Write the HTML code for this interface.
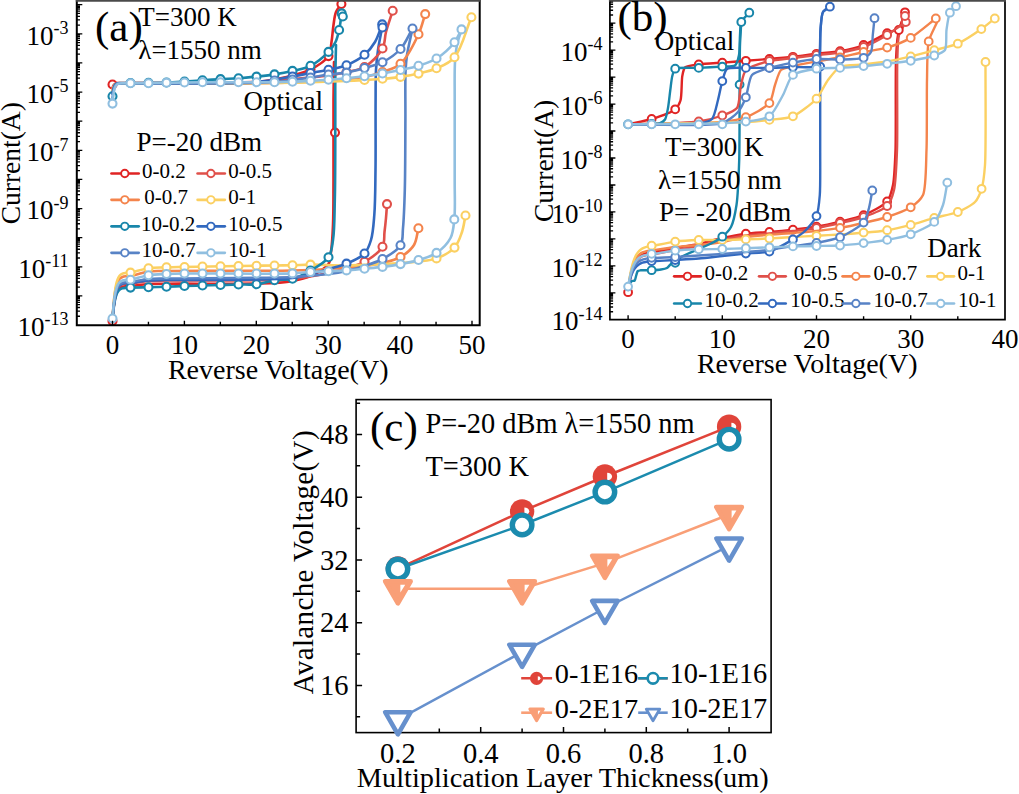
<!DOCTYPE html>
<html><head><meta charset="utf-8"><style>
html,body{margin:0;padding:0;background:#fff;}
svg{display:block;}
text{font-family:"Liberation Serif", serif;fill:#000;}
</style></head><body>
<svg width="1019" height="794" viewBox="0 0 1019 794">
<rect width="1019" height="794" fill="#fff"/>
<g>
<path d="M112.50,320.00 C112.60,318.76 112.69,317.58 112.80,316.29 C112.92,314.91 113.05,313.43 113.20,311.97 C113.35,310.48 113.52,308.93 113.70,307.43 C113.88,305.95 114.08,304.45 114.30,303.01 C114.51,301.64 114.72,300.34 115.00,299.00 C115.29,297.62 115.58,296.19 116.00,294.85 C116.42,293.52 116.87,292.10 117.50,290.97 C118.06,289.95 118.67,289.01 119.50,288.30 C120.34,287.59 121.43,287.08 122.50,286.73 C123.59,286.37 124.76,286.31 126.00,286.19 C127.40,286.05 128.50,286.15 130.50,286.00 C134.50,285.69 142.49,284.38 148.50,284.00 C154.49,283.62 157.98,283.80 166.50,283.70 C187.37,283.46 253.65,284.22 274.50,283.00 C283.04,282.50 286.55,282.15 292.50,281.00 C298.55,279.83 304.70,278.65 310.50,276.00 C316.74,273.14 325.29,268.75 328.50,264.00 C330.92,260.42 330.32,256.83 331.00,252.00 C332.01,244.83 332.57,235.15 333.00,225.00 C333.56,211.91 333.40,197.14 333.50,180.00 C333.63,157.14 333.36,121.76 333.50,100.00 C333.60,85.00 333.83,74.67 334.00,62.00" fill="none" stroke="#e02424" stroke-width="2.6" stroke-linejoin="round" stroke-linecap="round"/>
<circle cx="112.50" cy="321.00" r="4.0" fill="#fff" stroke="#e02424" stroke-width="2.1"/>
<circle cx="335.00" cy="132.60" r="4.0" fill="#fff" stroke="#e02424" stroke-width="2.1"/>
<path d="M112.50,320.00 C112.60,318.67 112.69,317.40 112.80,316.02 C112.92,314.54 113.05,312.95 113.20,311.38 C113.35,309.78 113.52,308.12 113.70,306.51 C113.88,304.91 114.08,303.31 114.30,301.77 C114.51,300.29 114.72,298.90 115.00,297.45 C115.29,295.98 115.58,294.45 116.00,293.00 C116.41,291.57 116.87,290.06 117.50,288.83 C118.06,287.75 118.66,286.73 119.50,285.97 C120.33,285.22 121.43,284.66 122.50,284.28 C123.59,283.90 124.76,283.83 126.00,283.70 C127.40,283.56 128.51,283.68 130.50,283.50 C134.51,283.13 142.49,281.50 148.50,281.00 C154.49,280.50 157.79,280.67 166.50,280.50 C189.54,280.04 263.31,281.59 292.50,279.00 C308.21,277.61 318.61,275.19 328.50,273.00 C335.58,271.43 340.53,269.86 346.50,268.00 C352.53,266.13 358.78,265.03 364.50,261.80 C370.85,258.21 379.38,252.36 382.50,246.70 C384.98,242.20 383.91,236.84 384.50,232.00 C385.07,227.28 385.58,222.66 386.00,218.00 C386.42,213.36 386.67,208.73 387.00,204.10" fill="none" stroke="#e0504a" stroke-width="2.6" stroke-linejoin="round" stroke-linecap="round"/>
<circle cx="364.50" cy="261.80" r="4.0" fill="#fff" stroke="#e0504a" stroke-width="2.1"/>
<circle cx="382.50" cy="246.70" r="4.0" fill="#fff" stroke="#e0504a" stroke-width="2.1"/>
<circle cx="387.00" cy="204.10" r="4.0" fill="#fff" stroke="#e0504a" stroke-width="2.1"/>
<path d="M112.50,320.00 C112.60,318.40 112.69,316.86 112.80,315.21 C112.92,313.41 113.05,311.50 113.20,309.61 C113.35,307.68 113.52,305.68 113.70,303.73 C113.88,301.81 114.08,299.88 114.30,298.02 C114.51,296.24 114.72,294.56 115.00,292.82 C115.29,291.04 115.58,289.20 116.00,287.45 C116.41,285.74 116.86,283.91 117.50,282.43 C118.06,281.14 118.64,279.91 119.50,278.98 C120.32,278.10 121.41,277.40 122.50,276.94 C123.58,276.49 124.75,276.40 126.00,276.24 C127.40,276.07 128.52,276.30 130.50,276.00 C134.52,275.39 142.45,272.33 148.50,271.50 C154.46,270.68 157.79,271.14 166.50,271.00 C189.54,270.63 263.24,271.17 292.50,270.50 C308.14,270.14 316.51,269.75 328.50,269.00 C340.51,268.25 354.58,267.24 364.50,266.00 C371.55,265.12 376.56,264.48 382.50,263.00 C388.56,261.49 395.20,260.06 400.50,257.00 C405.67,254.01 411.02,249.86 414.00,245.00 C416.92,240.25 416.93,233.87 418.40,228.30" fill="none" stroke="#f4844c" stroke-width="2.6" stroke-linejoin="round" stroke-linecap="round"/>
<circle cx="400.50" cy="257.00" r="4.0" fill="#fff" stroke="#f4844c" stroke-width="2.1"/>
<circle cx="418.40" cy="228.30" r="4.0" fill="#fff" stroke="#f4844c" stroke-width="2.1"/>
<path d="M112.50,321.00 C112.60,319.24 112.69,317.55 112.80,315.73 C112.92,313.75 113.05,311.65 113.20,309.58 C113.35,307.45 113.52,305.25 113.70,303.11 C113.88,301.00 114.08,298.86 114.30,296.82 C114.51,294.87 114.72,293.02 115.00,291.10 C115.29,289.15 115.58,287.12 116.00,285.20 C116.41,283.31 116.86,281.31 117.50,279.67 C118.06,278.26 118.62,276.90 119.50,275.88 C120.32,274.92 121.40,274.14 122.50,273.63 C123.57,273.14 124.75,273.04 126.00,272.87 C127.40,272.68 128.52,272.90 130.50,272.60 C134.52,271.99 142.46,269.08 148.50,268.20 C154.46,267.33 157.98,267.58 166.50,267.30 C187.37,266.60 253.63,265.79 274.50,265.50 C283.02,265.38 286.50,265.45 292.50,265.30 C298.50,265.15 303.47,264.65 310.50,264.60 C320.44,264.53 334.50,265.60 346.50,265.50 C358.50,265.40 372.56,264.48 382.50,264.00 C389.53,263.66 394.50,263.42 400.50,263.00 C406.50,262.58 412.52,262.26 418.50,261.50 C424.52,260.73 430.69,260.56 436.50,258.40 C442.72,256.09 450.20,252.31 454.50,247.60 C458.40,243.32 460.16,237.39 462.00,232.00 C463.81,226.68 464.33,221.00 465.50,215.50" fill="none" stroke="#fbd062" stroke-width="2.6" stroke-linejoin="round" stroke-linecap="round"/>
<circle cx="130.50" cy="272.60" r="4.0" fill="#fff" stroke="#fbd062" stroke-width="2.1"/>
<circle cx="148.50" cy="268.20" r="4.0" fill="#fff" stroke="#fbd062" stroke-width="2.1"/>
<circle cx="166.50" cy="267.30" r="4.0" fill="#fff" stroke="#fbd062" stroke-width="2.1"/>
<circle cx="184.50" cy="267.00" r="4.0" fill="#fff" stroke="#fbd062" stroke-width="2.1"/>
<circle cx="202.50" cy="266.50" r="4.0" fill="#fff" stroke="#fbd062" stroke-width="2.1"/>
<circle cx="220.50" cy="266.20" r="4.0" fill="#fff" stroke="#fbd062" stroke-width="2.1"/>
<circle cx="238.50" cy="266.00" r="4.0" fill="#fff" stroke="#fbd062" stroke-width="2.1"/>
<circle cx="256.50" cy="265.80" r="4.0" fill="#fff" stroke="#fbd062" stroke-width="2.1"/>
<circle cx="274.50" cy="265.50" r="4.0" fill="#fff" stroke="#fbd062" stroke-width="2.1"/>
<circle cx="292.50" cy="265.30" r="4.0" fill="#fff" stroke="#fbd062" stroke-width="2.1"/>
<circle cx="310.50" cy="264.60" r="4.0" fill="#fff" stroke="#fbd062" stroke-width="2.1"/>
<circle cx="436.50" cy="258.40" r="4.0" fill="#fff" stroke="#fbd062" stroke-width="2.1"/>
<circle cx="454.50" cy="247.60" r="4.0" fill="#fff" stroke="#fbd062" stroke-width="2.1"/>
<circle cx="465.50" cy="215.50" r="4.0" fill="#fff" stroke="#fbd062" stroke-width="2.1"/>
<path d="M112.50,320.00 C112.60,318.82 112.69,317.69 112.80,316.47 C112.92,315.15 113.05,313.74 113.20,312.35 C113.35,310.93 113.52,309.45 113.70,308.02 C113.88,306.61 114.08,305.18 114.30,303.81 C114.51,302.51 114.72,301.27 115.00,299.99 C115.29,298.67 115.58,297.31 116.00,296.03 C116.42,294.76 116.87,293.41 117.50,292.34 C118.06,291.36 118.68,290.47 119.50,289.79 C120.34,289.11 121.43,288.63 122.50,288.29 C123.60,287.95 124.76,287.90 126.00,287.78 C127.40,287.65 128.50,287.66 130.50,287.60 C134.50,287.48 142.50,287.35 148.50,287.20 C154.50,287.05 160.50,286.90 166.50,286.70 C172.50,286.50 178.50,286.20 184.50,286.00 C190.50,285.80 196.50,285.67 202.50,285.50 C208.50,285.33 214.50,285.17 220.50,285.00 C226.50,284.83 232.50,284.62 238.50,284.50 C244.50,284.38 250.54,285.00 256.50,284.30 C262.54,283.59 268.47,281.12 274.50,280.20 C280.47,279.29 286.63,280.31 292.50,278.80 C298.64,277.21 304.67,274.03 310.50,270.60 C316.70,266.95 324.78,262.80 328.50,257.30 C331.82,252.38 331.94,247.03 333.00,240.00 C334.59,229.49 334.40,215.63 334.80,200.00 C335.37,177.91 335.23,142.09 335.30,120.00 C335.35,104.38 335.17,92.89 335.30,80.00 C335.42,67.94 335.77,56.67 336.00,45.00" fill="none" stroke="#1886aa" stroke-width="2.6" stroke-linejoin="round" stroke-linecap="round"/>
<circle cx="130.50" cy="287.60" r="4.0" fill="#fff" stroke="#1886aa" stroke-width="2.1"/>
<circle cx="148.50" cy="287.20" r="4.0" fill="#fff" stroke="#1886aa" stroke-width="2.1"/>
<circle cx="166.50" cy="286.70" r="4.0" fill="#fff" stroke="#1886aa" stroke-width="2.1"/>
<circle cx="184.50" cy="286.00" r="4.0" fill="#fff" stroke="#1886aa" stroke-width="2.1"/>
<circle cx="202.50" cy="285.50" r="4.0" fill="#fff" stroke="#1886aa" stroke-width="2.1"/>
<circle cx="220.50" cy="285.00" r="4.0" fill="#fff" stroke="#1886aa" stroke-width="2.1"/>
<circle cx="238.50" cy="284.50" r="4.0" fill="#fff" stroke="#1886aa" stroke-width="2.1"/>
<circle cx="256.50" cy="284.30" r="4.0" fill="#fff" stroke="#1886aa" stroke-width="2.1"/>
<circle cx="274.50" cy="280.20" r="4.0" fill="#fff" stroke="#1886aa" stroke-width="2.1"/>
<circle cx="292.50" cy="278.80" r="4.0" fill="#fff" stroke="#1886aa" stroke-width="2.1"/>
<circle cx="310.50" cy="270.60" r="4.0" fill="#fff" stroke="#1886aa" stroke-width="2.1"/>
<circle cx="328.50" cy="257.30" r="4.0" fill="#fff" stroke="#1886aa" stroke-width="2.1"/>
<path d="M112.50,320.00 C112.60,318.66 112.69,317.36 112.80,315.97 C112.92,314.46 113.05,312.85 113.20,311.27 C113.35,309.64 113.52,307.96 113.70,306.32 C113.88,304.71 114.08,303.08 114.30,301.52 C114.51,300.02 114.72,298.61 115.00,297.15 C115.29,295.65 115.58,294.10 116.00,292.63 C116.41,291.18 116.87,289.65 117.50,288.41 C118.06,287.31 118.66,286.28 119.50,285.51 C120.33,284.74 121.42,284.17 122.50,283.79 C123.59,283.40 124.76,283.34 126.00,283.21 C127.40,283.06 128.51,283.18 130.50,283.00 C134.51,282.63 142.49,281.00 148.50,280.50 C154.49,280.00 157.79,280.19 166.50,280.00 C189.54,279.50 269.53,280.71 292.50,278.00 C301.29,276.97 304.52,275.49 310.50,274.00 C316.52,272.50 322.51,270.73 328.50,269.00 C334.51,267.26 340.63,266.09 346.50,263.60 C352.65,260.99 360.37,257.90 364.50,253.50 C368.02,249.75 369.41,245.34 371.00,240.00 C373.07,233.08 373.54,224.57 374.30,215.00 C375.31,202.21 375.27,186.65 375.50,170.00 C375.79,149.24 375.46,118.46 375.60,100.00 C375.69,87.91 375.49,78.98 376.00,70.00 C376.42,62.65 377.03,56.88 378.00,50.00 C379.05,42.58 380.80,34.67 382.20,27.00" fill="none" stroke="#3269bf" stroke-width="2.6" stroke-linejoin="round" stroke-linecap="round"/>
<circle cx="346.50" cy="263.60" r="4.0" fill="#fff" stroke="#3269bf" stroke-width="2.1"/>
<circle cx="364.50" cy="253.50" r="4.0" fill="#fff" stroke="#3269bf" stroke-width="2.1"/>
<path d="M112.50,320.00 C112.60,318.62 112.69,317.29 112.80,315.86 C112.92,314.31 113.05,312.66 113.20,311.03 C113.35,309.36 113.52,307.63 113.70,305.95 C113.88,304.29 114.08,302.62 114.30,301.02 C114.51,299.48 114.72,298.03 115.00,296.53 C115.29,294.99 115.58,293.40 116.00,291.89 C116.41,290.41 116.87,288.83 117.50,287.55 C118.06,286.43 118.66,285.37 119.50,284.57 C120.33,283.79 121.42,283.21 122.50,282.81 C123.59,282.41 124.76,282.35 126.00,282.21 C127.40,282.06 128.51,282.21 130.50,282.00 C134.51,281.57 142.48,279.58 148.50,279.00 C154.48,278.42 157.79,278.67 166.50,278.50 C189.54,278.04 263.26,278.39 292.50,277.00 C308.16,276.26 318.58,275.24 328.50,274.00 C335.55,273.12 340.53,272.32 346.50,271.00 C352.54,269.66 358.55,267.98 364.50,266.00 C370.55,263.99 376.72,262.24 382.50,259.00 C388.76,255.49 397.19,250.93 400.50,245.30 C403.41,240.35 402.34,234.91 403.00,228.00 C403.98,217.81 404.39,204.59 404.80,190.00 C405.35,170.21 405.27,141.38 405.40,120.00 C405.51,101.93 405.03,81.79 405.60,70.00 C405.91,63.53 406.15,60.68 407.00,55.00 C408.14,47.39 410.67,37.33 412.50,28.50" fill="none" stroke="#5883c6" stroke-width="2.6" stroke-linejoin="round" stroke-linecap="round"/>
<circle cx="382.50" cy="259.00" r="4.0" fill="#fff" stroke="#5883c6" stroke-width="2.1"/>
<circle cx="400.50" cy="245.30" r="4.0" fill="#fff" stroke="#5883c6" stroke-width="2.1"/>
<path d="M112.50,318.50 C112.60,317.09 112.69,315.73 112.80,314.27 C112.92,312.69 113.05,311.01 113.20,309.34 C113.35,307.63 113.52,305.87 113.70,304.16 C113.88,302.46 114.08,300.75 114.30,299.12 C114.51,297.55 114.72,296.07 115.00,294.53 C115.29,292.96 115.58,291.34 116.00,289.80 C116.41,288.28 116.86,286.67 117.50,285.37 C118.06,284.22 118.65,283.14 119.50,282.33 C120.33,281.53 121.42,280.93 122.50,280.53 C123.59,280.12 124.76,280.05 126.00,279.92 C127.40,279.76 128.52,279.99 130.50,279.70 C134.52,279.12 142.46,276.25 148.50,275.30 C154.46,274.36 160.50,274.30 166.50,274.00 C172.50,273.70 175.98,273.62 184.50,273.50 C205.37,273.20 271.64,274.22 292.50,273.40 C301.03,273.06 304.50,272.35 310.50,272.00 C316.50,271.65 322.50,271.57 328.50,271.30 C334.50,271.03 340.50,270.83 346.50,270.40 C352.50,269.97 358.50,269.28 364.50,268.70 C370.50,268.12 376.51,267.66 382.50,266.90 C388.51,266.13 394.52,265.24 400.50,264.10 C406.52,262.95 412.57,261.83 418.50,260.00 C424.57,258.12 431.22,256.48 436.50,252.90 C441.93,249.22 447.54,243.71 450.50,238.00 C453.35,232.49 453.51,226.79 454.30,219.40 C455.43,208.75 454.62,195.44 454.70,180.00 C454.81,158.01 454.61,121.76 454.70,100.00 C454.76,85.00 454.37,72.14 455.00,62.00 C455.43,55.19 455.89,50.50 457.00,45.00 C458.08,39.64 460.00,34.60 461.50,29.40" fill="none" stroke="#90bfe0" stroke-width="2.6" stroke-linejoin="round" stroke-linecap="round"/>
<circle cx="112.50" cy="318.50" r="4.0" fill="#fff" stroke="#90bfe0" stroke-width="2.1"/>
<circle cx="130.50" cy="279.70" r="4.0" fill="#fff" stroke="#90bfe0" stroke-width="2.1"/>
<circle cx="148.50" cy="275.30" r="4.0" fill="#fff" stroke="#90bfe0" stroke-width="2.1"/>
<circle cx="166.50" cy="274.00" r="4.0" fill="#fff" stroke="#90bfe0" stroke-width="2.1"/>
<circle cx="184.50" cy="273.50" r="4.0" fill="#fff" stroke="#90bfe0" stroke-width="2.1"/>
<circle cx="202.50" cy="273.50" r="4.0" fill="#fff" stroke="#90bfe0" stroke-width="2.1"/>
<circle cx="220.50" cy="273.50" r="4.0" fill="#fff" stroke="#90bfe0" stroke-width="2.1"/>
<circle cx="238.50" cy="273.50" r="4.0" fill="#fff" stroke="#90bfe0" stroke-width="2.1"/>
<circle cx="256.50" cy="273.50" r="4.0" fill="#fff" stroke="#90bfe0" stroke-width="2.1"/>
<circle cx="274.50" cy="273.50" r="4.0" fill="#fff" stroke="#90bfe0" stroke-width="2.1"/>
<circle cx="292.50" cy="273.40" r="4.0" fill="#fff" stroke="#90bfe0" stroke-width="2.1"/>
<circle cx="310.50" cy="272.00" r="4.0" fill="#fff" stroke="#90bfe0" stroke-width="2.1"/>
<circle cx="328.50" cy="271.30" r="4.0" fill="#fff" stroke="#90bfe0" stroke-width="2.1"/>
<circle cx="346.50" cy="270.40" r="4.0" fill="#fff" stroke="#90bfe0" stroke-width="2.1"/>
<circle cx="364.50" cy="268.70" r="4.0" fill="#fff" stroke="#90bfe0" stroke-width="2.1"/>
<circle cx="382.50" cy="266.90" r="4.0" fill="#fff" stroke="#90bfe0" stroke-width="2.1"/>
<circle cx="400.50" cy="264.10" r="4.0" fill="#fff" stroke="#90bfe0" stroke-width="2.1"/>
<circle cx="418.50" cy="260.00" r="4.0" fill="#fff" stroke="#90bfe0" stroke-width="2.1"/>
<circle cx="436.50" cy="252.90" r="4.0" fill="#fff" stroke="#90bfe0" stroke-width="2.1"/>
<circle cx="454.30" cy="219.40" r="4.0" fill="#fff" stroke="#90bfe0" stroke-width="2.1"/>
<path d="M112.50,84.50 C112.60,84.37 112.69,84.23 112.80,84.11 C112.92,83.98 113.05,83.85 113.20,83.74 C113.35,83.63 113.52,83.53 113.70,83.45 C113.89,83.37 114.09,83.30 114.30,83.25 C114.52,83.19 114.75,83.16 115.00,83.12 C115.30,83.08 115.63,83.06 116.00,83.05 C116.45,83.02 116.96,83.02 117.50,83.01 C118.12,83.00 118.77,83.00 119.50,83.00 C120.40,83.00 121.46,83.00 122.50,83.00 C123.62,83.00 124.76,83.00 126.00,83.00 C127.41,83.00 128.17,83.01 130.50,83.00 C138.56,82.97 165.21,82.78 184.50,82.60 C206.78,82.39 240.52,82.91 256.50,81.80 C264.52,81.24 268.52,80.54 274.50,79.50 C280.52,78.45 286.54,77.15 292.50,75.50 C298.54,73.83 304.73,72.51 310.50,69.50 C316.77,66.23 325.14,61.34 328.50,56.10 C331.19,51.90 330.69,46.94 331.50,42.00 C332.39,36.62 332.68,30.27 333.50,25.00 C334.22,20.36 334.48,15.68 336.00,12.00 C337.30,8.86 339.60,6.67 341.40,4.00" fill="none" stroke="#e02424" stroke-width="2.6" stroke-linejoin="round" stroke-linecap="round"/>
<circle cx="112.50" cy="84.50" r="4.0" fill="#fff" stroke="#e02424" stroke-width="2.1"/>
<circle cx="310.50" cy="69.50" r="4.0" fill="#fff" stroke="#e02424" stroke-width="2.1"/>
<circle cx="328.50" cy="56.10" r="4.0" fill="#fff" stroke="#e02424" stroke-width="2.1"/>
<circle cx="341.40" cy="4.00" r="4.0" fill="#fff" stroke="#e02424" stroke-width="2.1"/>
<path d="M112.50,88.00 C112.60,87.67 112.69,87.34 112.80,87.01 C112.92,86.67 113.05,86.32 113.20,86.00 C113.35,85.69 113.51,85.38 113.70,85.11 C113.88,84.85 114.08,84.61 114.30,84.40 C114.51,84.21 114.74,84.04 115.00,83.90 C115.29,83.74 115.63,83.62 116.00,83.53 C116.44,83.41 116.96,83.35 117.50,83.30 C118.12,83.24 118.77,83.24 119.50,83.22 C120.40,83.20 121.46,83.21 122.50,83.20 C123.62,83.20 124.76,83.20 126.00,83.20 C127.41,83.20 127.98,83.21 130.50,83.20 C143.85,83.17 227.27,84.13 256.50,82.60 C272.17,81.78 282.56,79.91 292.50,79.00 C299.53,78.36 304.50,78.08 310.50,77.50 C316.50,76.92 322.52,76.41 328.50,75.50 C334.52,74.58 340.53,73.41 346.50,72.00 C352.53,70.58 358.91,70.31 364.50,67.00 C371.07,63.11 379.02,55.02 382.50,48.50 C385.31,43.23 384.47,37.80 386.00,32.00 C387.76,25.34 390.47,17.87 392.70,10.80" fill="none" stroke="#e0504a" stroke-width="2.6" stroke-linejoin="round" stroke-linecap="round"/>
<circle cx="346.50" cy="72.00" r="4.0" fill="#fff" stroke="#e0504a" stroke-width="2.1"/>
<circle cx="364.50" cy="67.00" r="4.0" fill="#fff" stroke="#e0504a" stroke-width="2.1"/>
<circle cx="382.50" cy="48.50" r="4.0" fill="#fff" stroke="#e0504a" stroke-width="2.1"/>
<circle cx="392.70" cy="10.80" r="4.0" fill="#fff" stroke="#e0504a" stroke-width="2.1"/>
<path d="M112.50,90.00 C112.60,89.58 112.69,89.17 112.80,88.75 C112.92,88.31 113.05,87.86 113.20,87.44 C113.35,87.03 113.51,86.63 113.70,86.26 C113.88,85.91 114.07,85.58 114.30,85.30 C114.51,85.03 114.73,84.80 115.00,84.59 C115.29,84.37 115.62,84.18 116.00,84.03 C116.44,83.86 116.96,83.76 117.50,83.68 C118.12,83.59 118.77,83.57 119.50,83.54 C120.40,83.51 121.46,83.51 122.50,83.51 C123.62,83.50 124.76,83.50 126.00,83.50 C127.41,83.50 127.93,83.51 130.50,83.50 C145.93,83.45 252.98,83.90 292.50,82.50 C315.34,81.69 333.33,80.16 346.50,79.00 C354.12,78.33 358.55,78.15 364.50,77.00 C370.55,75.83 376.58,74.15 382.50,72.00 C388.59,69.78 395.13,68.56 400.50,63.80 C407.60,57.51 414.27,43.43 418.50,34.30 C421.82,27.13 422.97,20.83 425.20,14.10" fill="none" stroke="#f4844c" stroke-width="2.6" stroke-linejoin="round" stroke-linecap="round"/>
<circle cx="382.50" cy="72.00" r="4.0" fill="#fff" stroke="#f4844c" stroke-width="2.1"/>
<circle cx="400.50" cy="63.80" r="4.0" fill="#fff" stroke="#f4844c" stroke-width="2.1"/>
<circle cx="418.50" cy="34.30" r="4.0" fill="#fff" stroke="#f4844c" stroke-width="2.1"/>
<circle cx="425.20" cy="14.10" r="4.0" fill="#fff" stroke="#f4844c" stroke-width="2.1"/>
<path d="M112.50,92.00 C112.60,91.46 112.69,90.92 112.80,90.38 C112.92,89.82 113.05,89.24 113.20,88.69 C113.35,88.17 113.51,87.64 113.70,87.16 C113.88,86.72 114.07,86.29 114.30,85.92 C114.51,85.58 114.72,85.28 115.00,85.01 C115.29,84.73 115.62,84.48 116.00,84.29 C116.43,84.08 116.96,83.94 117.50,83.84 C118.11,83.72 118.77,83.70 119.50,83.66 C120.40,83.61 121.46,83.62 122.50,83.61 C123.62,83.60 124.76,83.60 126.00,83.60 C127.41,83.60 127.93,83.61 130.50,83.60 C145.93,83.56 252.97,83.56 292.50,82.80 C315.33,82.36 333.33,81.59 346.50,81.00 C354.11,80.66 358.50,80.37 364.50,80.00 C370.50,79.63 376.50,79.32 382.50,78.80 C388.50,78.28 394.52,77.76 400.50,76.90 C406.52,76.03 412.54,75.02 418.50,73.60 C424.54,72.16 430.67,70.89 436.50,68.30 C442.69,65.56 449.35,63.28 454.50,57.30 C461.89,48.72 465.77,30.63 471.40,17.30" fill="none" stroke="#fbd062" stroke-width="2.6" stroke-linejoin="round" stroke-linecap="round"/>
<circle cx="364.50" cy="80.00" r="4.0" fill="#fff" stroke="#fbd062" stroke-width="2.1"/>
<circle cx="382.50" cy="78.80" r="4.0" fill="#fff" stroke="#fbd062" stroke-width="2.1"/>
<circle cx="400.50" cy="76.90" r="4.0" fill="#fff" stroke="#fbd062" stroke-width="2.1"/>
<circle cx="418.50" cy="73.60" r="4.0" fill="#fff" stroke="#fbd062" stroke-width="2.1"/>
<circle cx="436.50" cy="68.30" r="4.0" fill="#fff" stroke="#fbd062" stroke-width="2.1"/>
<circle cx="454.50" cy="57.30" r="4.0" fill="#fff" stroke="#fbd062" stroke-width="2.1"/>
<circle cx="471.40" cy="17.30" r="4.0" fill="#fff" stroke="#fbd062" stroke-width="2.1"/>
<path d="M112.50,96.30 C112.60,95.44 112.68,94.60 112.80,93.73 C112.92,92.85 113.05,91.93 113.20,91.07 C113.35,90.24 113.51,89.41 113.70,88.64 C113.88,87.95 114.07,87.27 114.30,86.68 C114.51,86.15 114.71,85.67 115.00,85.23 C115.28,84.81 115.60,84.40 116.00,84.09 C116.42,83.77 116.95,83.54 117.50,83.37 C118.11,83.19 118.76,83.15 119.50,83.09 C120.40,83.01 121.46,83.03 122.50,83.01 C123.62,82.99 124.76,83.00 126.00,83.00 C127.41,83.00 128.28,83.02 130.50,83.00 C136.77,82.96 156.56,82.84 166.50,82.50 C173.53,82.26 178.50,81.87 184.50,81.50 C190.50,81.13 196.50,80.70 202.50,80.30 C208.50,79.90 214.50,79.43 220.50,79.10 C226.50,78.77 232.51,78.72 238.50,78.30 C244.51,77.88 250.50,77.25 256.50,76.60 C262.50,75.95 268.52,75.35 274.50,74.40 C280.52,73.45 286.53,72.32 292.50,70.90 C298.53,69.46 304.77,68.69 310.50,65.80 C316.82,62.61 324.12,56.47 328.50,51.90 C331.70,48.56 333.74,45.61 335.50,42.00 C337.29,38.33 338.11,34.36 339.10,30.00 C340.25,24.95 340.83,18.93 341.70,13.40" fill="none" stroke="#1886aa" stroke-width="2.6" stroke-linejoin="round" stroke-linecap="round"/>
<circle cx="112.50" cy="96.30" r="4.0" fill="#fff" stroke="#1886aa" stroke-width="2.1"/>
<circle cx="130.50" cy="83.00" r="4.0" fill="#fff" stroke="#1886aa" stroke-width="2.1"/>
<circle cx="148.50" cy="82.80" r="4.0" fill="#fff" stroke="#1886aa" stroke-width="2.1"/>
<circle cx="166.50" cy="82.50" r="4.0" fill="#fff" stroke="#1886aa" stroke-width="2.1"/>
<circle cx="184.50" cy="81.50" r="4.0" fill="#fff" stroke="#1886aa" stroke-width="2.1"/>
<circle cx="202.50" cy="80.30" r="4.0" fill="#fff" stroke="#1886aa" stroke-width="2.1"/>
<circle cx="220.50" cy="79.10" r="4.0" fill="#fff" stroke="#1886aa" stroke-width="2.1"/>
<circle cx="238.50" cy="78.30" r="4.0" fill="#fff" stroke="#1886aa" stroke-width="2.1"/>
<circle cx="256.50" cy="76.60" r="4.0" fill="#fff" stroke="#1886aa" stroke-width="2.1"/>
<circle cx="274.50" cy="74.40" r="4.0" fill="#fff" stroke="#1886aa" stroke-width="2.1"/>
<circle cx="292.50" cy="70.90" r="4.0" fill="#fff" stroke="#1886aa" stroke-width="2.1"/>
<circle cx="310.50" cy="65.80" r="4.0" fill="#fff" stroke="#1886aa" stroke-width="2.1"/>
<circle cx="328.50" cy="51.90" r="4.0" fill="#fff" stroke="#1886aa" stroke-width="2.1"/>
<circle cx="339.10" cy="30.00" r="4.0" fill="#fff" stroke="#1886aa" stroke-width="2.1"/>
<circle cx="341.70" cy="13.40" r="4.0" fill="#fff" stroke="#1886aa" stroke-width="2.1"/>
<circle cx="342.80" cy="16.50" r="4.0" fill="#fff" stroke="#1886aa" stroke-width="2.1"/>
<path d="M112.50,94.00 C112.60,93.31 112.69,92.63 112.80,91.94 C112.92,91.23 113.05,90.49 113.20,89.79 C113.35,89.12 113.51,88.45 113.70,87.84 C113.88,87.28 114.07,86.74 114.30,86.26 C114.51,85.83 114.72,85.44 115.00,85.09 C115.28,84.75 115.61,84.42 116.00,84.18 C116.43,83.91 116.95,83.73 117.50,83.60 C118.11,83.45 118.76,83.42 119.50,83.37 C120.40,83.31 121.46,83.32 122.50,83.31 C123.62,83.30 124.76,83.30 126.00,83.30 C127.41,83.30 127.98,83.31 130.50,83.30 C143.85,83.23 227.30,84.37 256.50,82.00 C272.20,80.73 282.57,78.22 292.50,76.50 C299.54,75.28 304.50,74.13 310.50,73.00 C316.50,71.87 322.52,70.99 328.50,69.70 C334.52,68.40 340.66,67.56 346.50,65.20 C352.68,62.70 359.60,58.96 364.50,54.80 C368.87,51.09 372.11,46.85 375.00,42.00 C378.10,36.80 379.80,30.27 382.20,24.40" fill="none" stroke="#3269bf" stroke-width="2.6" stroke-linejoin="round" stroke-linecap="round"/>
<circle cx="292.50" cy="76.50" r="4.0" fill="#fff" stroke="#3269bf" stroke-width="2.1"/>
<circle cx="310.50" cy="73.00" r="4.0" fill="#fff" stroke="#3269bf" stroke-width="2.1"/>
<circle cx="328.50" cy="69.70" r="4.0" fill="#fff" stroke="#3269bf" stroke-width="2.1"/>
<circle cx="346.50" cy="65.20" r="4.0" fill="#fff" stroke="#3269bf" stroke-width="2.1"/>
<circle cx="364.50" cy="54.80" r="4.0" fill="#fff" stroke="#3269bf" stroke-width="2.1"/>
<circle cx="382.20" cy="24.40" r="4.0" fill="#fff" stroke="#3269bf" stroke-width="2.1"/>
<circle cx="382.50" cy="27.50" r="4.0" fill="#fff" stroke="#3269bf" stroke-width="2.1"/>
<path d="M112.50,98.00 C112.60,97.11 112.69,96.24 112.80,95.34 C112.92,94.41 113.05,93.44 113.20,92.52 C113.35,91.63 113.51,90.73 113.70,89.91 C113.88,89.14 114.07,88.40 114.30,87.73 C114.51,87.13 114.71,86.58 115.00,86.08 C115.28,85.59 115.59,85.10 116.00,84.73 C116.42,84.34 116.94,84.04 117.50,83.82 C118.10,83.59 118.76,83.52 119.50,83.44 C120.40,83.33 121.46,83.34 122.50,83.32 C123.62,83.29 124.76,83.31 126.00,83.30 C127.41,83.30 127.95,83.31 130.50,83.30 C144.92,83.23 242.54,84.13 274.50,82.00 C290.54,80.93 300.57,78.95 310.50,77.50 C317.54,76.47 322.49,75.32 328.50,74.50 C334.49,73.69 340.54,73.67 346.50,72.60 C352.54,71.52 358.53,69.72 364.50,68.00 C370.53,66.26 376.73,65.15 382.50,62.20 C388.77,59.00 395.54,54.49 400.50,49.00 C405.61,43.33 408.50,35.33 412.50,28.50" fill="none" stroke="#5883c6" stroke-width="2.6" stroke-linejoin="round" stroke-linecap="round"/>
<circle cx="274.50" cy="80.50" r="4.0" fill="#fff" stroke="#5883c6" stroke-width="2.1"/>
<circle cx="292.50" cy="79.50" r="4.0" fill="#fff" stroke="#5883c6" stroke-width="2.1"/>
<circle cx="310.50" cy="77.50" r="4.0" fill="#fff" stroke="#5883c6" stroke-width="2.1"/>
<circle cx="328.50" cy="74.50" r="4.0" fill="#fff" stroke="#5883c6" stroke-width="2.1"/>
<circle cx="346.50" cy="72.60" r="4.0" fill="#fff" stroke="#5883c6" stroke-width="2.1"/>
<circle cx="364.50" cy="68.00" r="4.0" fill="#fff" stroke="#5883c6" stroke-width="2.1"/>
<circle cx="382.50" cy="62.20" r="4.0" fill="#fff" stroke="#5883c6" stroke-width="2.1"/>
<circle cx="400.50" cy="49.00" r="4.0" fill="#fff" stroke="#5883c6" stroke-width="2.1"/>
<circle cx="412.50" cy="28.50" r="4.0" fill="#fff" stroke="#5883c6" stroke-width="2.1"/>
<path d="M112.50,103.60 C112.60,102.44 112.69,101.29 112.80,100.11 C112.92,98.89 113.05,97.60 113.20,96.37 C113.35,95.17 113.51,93.97 113.70,92.84 C113.88,91.79 114.07,90.76 114.30,89.82 C114.51,88.99 114.71,88.21 115.00,87.48 C115.28,86.77 115.57,86.06 116.00,85.49 C116.41,84.94 116.92,84.43 117.50,84.10 C118.09,83.75 118.76,83.60 119.50,83.46 C120.39,83.28 121.46,83.28 122.50,83.24 C123.62,83.19 124.76,83.21 126.00,83.20 C127.41,83.20 128.10,83.22 130.50,83.20 C140.10,83.14 178.50,82.45 202.50,82.30 C226.50,82.15 258.50,82.52 274.50,82.30 C282.50,82.19 286.50,82.05 292.50,81.80 C298.50,81.55 304.50,81.13 310.50,80.80 C316.50,80.47 322.50,80.22 328.50,79.80 C334.50,79.38 340.50,78.90 346.50,78.30 C352.50,77.70 358.51,77.00 364.50,76.20 C370.51,75.40 376.51,74.53 382.50,73.50 C388.51,72.47 394.51,71.30 400.50,70.00 C406.51,68.70 412.57,67.58 418.50,65.70 C424.57,63.77 430.80,62.06 436.50,58.50 C442.88,54.52 450.18,47.67 454.50,42.20 C457.85,37.96 459.17,33.67 461.50,29.40" fill="none" stroke="#90bfe0" stroke-width="2.6" stroke-linejoin="round" stroke-linecap="round"/>
<circle cx="112.50" cy="103.60" r="4.0" fill="#fff" stroke="#90bfe0" stroke-width="2.1"/>
<circle cx="130.50" cy="83.20" r="4.0" fill="#fff" stroke="#90bfe0" stroke-width="2.1"/>
<circle cx="148.50" cy="83.20" r="4.0" fill="#fff" stroke="#90bfe0" stroke-width="2.1"/>
<circle cx="166.50" cy="82.80" r="4.0" fill="#fff" stroke="#90bfe0" stroke-width="2.1"/>
<circle cx="184.50" cy="82.50" r="4.0" fill="#fff" stroke="#90bfe0" stroke-width="2.1"/>
<circle cx="202.50" cy="82.30" r="4.0" fill="#fff" stroke="#90bfe0" stroke-width="2.1"/>
<circle cx="220.50" cy="82.30" r="4.0" fill="#fff" stroke="#90bfe0" stroke-width="2.1"/>
<circle cx="238.50" cy="82.30" r="4.0" fill="#fff" stroke="#90bfe0" stroke-width="2.1"/>
<circle cx="256.50" cy="82.30" r="4.0" fill="#fff" stroke="#90bfe0" stroke-width="2.1"/>
<circle cx="274.50" cy="82.30" r="4.0" fill="#fff" stroke="#90bfe0" stroke-width="2.1"/>
<circle cx="292.50" cy="81.80" r="4.0" fill="#fff" stroke="#90bfe0" stroke-width="2.1"/>
<circle cx="310.50" cy="80.80" r="4.0" fill="#fff" stroke="#90bfe0" stroke-width="2.1"/>
<circle cx="328.50" cy="79.80" r="4.0" fill="#fff" stroke="#90bfe0" stroke-width="2.1"/>
<circle cx="346.50" cy="78.30" r="4.0" fill="#fff" stroke="#90bfe0" stroke-width="2.1"/>
<circle cx="364.50" cy="76.20" r="4.0" fill="#fff" stroke="#90bfe0" stroke-width="2.1"/>
<circle cx="382.50" cy="73.50" r="4.0" fill="#fff" stroke="#90bfe0" stroke-width="2.1"/>
<circle cx="400.50" cy="70.00" r="4.0" fill="#fff" stroke="#90bfe0" stroke-width="2.1"/>
<circle cx="418.50" cy="65.70" r="4.0" fill="#fff" stroke="#90bfe0" stroke-width="2.1"/>
<circle cx="436.50" cy="58.50" r="4.0" fill="#fff" stroke="#90bfe0" stroke-width="2.1"/>
<circle cx="454.50" cy="42.20" r="4.0" fill="#fff" stroke="#90bfe0" stroke-width="2.1"/>
<circle cx="461.50" cy="29.40" r="4.0" fill="#fff" stroke="#90bfe0" stroke-width="2.1"/>
</g>
<path d="M76.8,0 V325.3 H479.7 V0" fill="none" stroke="#000" stroke-width="2"/>
<path d="M75.8,0.9 H480.7" stroke="#4a4a4a" stroke-width="1.8"/>
<path d="M76.8,4.70h5.5 M76.8,33.82h5.5 M76.8,25.05h3.2 M76.8,19.93h3.2 M76.8,16.29h3.2 M76.8,13.47h3.2 M76.8,11.16h3.2 M76.8,9.21h3.2 M76.8,7.52h3.2 M76.8,6.03h3.2 M76.8,62.94h5.5 M76.8,54.17h3.2 M76.8,49.05h3.2 M76.8,45.41h3.2 M76.8,42.59h3.2 M76.8,40.28h3.2 M76.8,38.33h3.2 M76.8,36.64h3.2 M76.8,35.15h3.2 M76.8,92.06h5.5 M76.8,83.29h3.2 M76.8,78.17h3.2 M76.8,74.53h3.2 M76.8,71.71h3.2 M76.8,69.40h3.2 M76.8,67.45h3.2 M76.8,65.76h3.2 M76.8,64.27h3.2 M76.8,121.18h5.5 M76.8,112.41h3.2 M76.8,107.29h3.2 M76.8,103.65h3.2 M76.8,100.83h3.2 M76.8,98.52h3.2 M76.8,96.57h3.2 M76.8,94.88h3.2 M76.8,93.39h3.2 M76.8,150.30h5.5 M76.8,141.53h3.2 M76.8,136.41h3.2 M76.8,132.77h3.2 M76.8,129.95h3.2 M76.8,127.64h3.2 M76.8,125.69h3.2 M76.8,124.00h3.2 M76.8,122.51h3.2 M76.8,179.42h5.5 M76.8,170.65h3.2 M76.8,165.53h3.2 M76.8,161.89h3.2 M76.8,159.07h3.2 M76.8,156.76h3.2 M76.8,154.81h3.2 M76.8,153.12h3.2 M76.8,151.63h3.2 M76.8,208.54h5.5 M76.8,199.77h3.2 M76.8,194.65h3.2 M76.8,191.01h3.2 M76.8,188.19h3.2 M76.8,185.88h3.2 M76.8,183.93h3.2 M76.8,182.24h3.2 M76.8,180.75h3.2 M76.8,237.66h5.5 M76.8,228.89h3.2 M76.8,223.77h3.2 M76.8,220.13h3.2 M76.8,217.31h3.2 M76.8,215.00h3.2 M76.8,213.05h3.2 M76.8,211.36h3.2 M76.8,209.87h3.2 M76.8,266.78h5.5 M76.8,258.01h3.2 M76.8,252.89h3.2 M76.8,249.25h3.2 M76.8,246.43h3.2 M76.8,244.12h3.2 M76.8,242.17h3.2 M76.8,240.48h3.2 M76.8,238.99h3.2 M76.8,295.90h5.5 M76.8,287.13h3.2 M76.8,282.01h3.2 M76.8,278.37h3.2 M76.8,275.55h3.2 M76.8,273.24h3.2 M76.8,271.29h3.2 M76.8,269.60h3.2 M76.8,268.11h3.2 M76.8,316.25h3.2 M76.8,311.13h3.2 M76.8,307.49h3.2 M76.8,304.67h3.2 M76.8,302.36h3.2 M76.8,300.41h3.2 M76.8,298.72h3.2 M76.8,297.23h3.2" stroke="#000" stroke-width="1.3" fill="none"/>
<path d="M112.50,325.3v-4.5 M148.45,325.3v-3.5 M184.40,325.3v-4.5 M220.35,325.3v-3.5 M256.30,325.3v-4.5 M292.25,325.3v-3.5 M328.20,325.3v-4.5 M364.15,325.3v-3.5 M400.10,325.3v-4.5 M436.05,325.3v-3.5 M472.00,325.3v-4.5" stroke="#000" stroke-width="1.4" fill="none"/>
<text x="68.5" y="44.620000000000005" font-size="27" text-anchor="end" >10<tspan font-size="18" dy="-10.5">-3</tspan></text>
<text x="68.5" y="102.86" font-size="27" text-anchor="end" >10<tspan font-size="18" dy="-10.5">-5</tspan></text>
<text x="68.5" y="161.1" font-size="27" text-anchor="end" >10<tspan font-size="18" dy="-10.5">-7</tspan></text>
<text x="68.5" y="219.34" font-size="27" text-anchor="end" >10<tspan font-size="18" dy="-10.5">-9</tspan></text>
<text x="68.5" y="277.58" font-size="27" text-anchor="end" >10<tspan font-size="18" dy="-10.5">-11</tspan></text>
<text x="68.5" y="335.82" font-size="27" text-anchor="end" >10<tspan font-size="18" dy="-10.5">-13</tspan></text>
<text x="112.5" y="353.9" font-size="27" text-anchor="middle" >0</text>
<text x="184.4" y="353.9" font-size="27" text-anchor="middle" >10</text>
<text x="256.3" y="353.9" font-size="27" text-anchor="middle" >20</text>
<text x="328.20000000000005" y="353.9" font-size="27" text-anchor="middle" >30</text>
<text x="400.1" y="353.9" font-size="27" text-anchor="middle" >40</text>
<text x="472.0" y="353.9" font-size="27" text-anchor="middle" >50</text>
<text x="278.2" y="379.4" font-size="28" text-anchor="middle" >Reverse Voltage(V)</text>
<text transform="translate(20.4,163.2) rotate(-90)" font-size="27.5" text-anchor="middle">Current(A)</text>
<text x="95" y="41" font-size="43" text-anchor="start" >(a)</text>
<text x="138.3" y="26.1" font-size="27" text-anchor="start" >T=300 K</text>
<text x="138.3" y="59.2" font-size="27" text-anchor="start" >λ=1550 nm</text>
<text x="243.5" y="110" font-size="27" text-anchor="start" >Optical</text>
<text x="136.4" y="151.3" font-size="27" text-anchor="start" >P=-20 dBm</text>
<text x="259.6" y="309.6" font-size="27" text-anchor="start" >Dark</text>
<path d="M111.5,173.5h27.2" stroke="#e02424" stroke-width="2.7" stroke-linecap="round"/>
<circle cx="124.8" cy="173.5" r="3.7" fill="#fff" stroke="#e02424" stroke-width="1.9"/>
<text x="142" y="177.7" font-size="21" text-anchor="start" >0-0.2</text>
<path d="M197.6,173.5h27.2" stroke="#e0504a" stroke-width="2.7" stroke-linecap="round"/>
<circle cx="210.9" cy="173.5" r="3.7" fill="#fff" stroke="#e0504a" stroke-width="1.9"/>
<text x="228.2" y="177.7" font-size="21" text-anchor="start" >0-0.5</text>
<path d="M111.5,199.8h27.2" stroke="#f4844c" stroke-width="2.7" stroke-linecap="round"/>
<circle cx="124.8" cy="199.8" r="3.7" fill="#fff" stroke="#f4844c" stroke-width="1.9"/>
<text x="144.3" y="204.0" font-size="21" text-anchor="start" >0-0.7</text>
<path d="M197.6,199.8h27.2" stroke="#fbd062" stroke-width="2.7" stroke-linecap="round"/>
<circle cx="210.9" cy="199.8" r="3.7" fill="#fff" stroke="#fbd062" stroke-width="1.9"/>
<text x="228.2" y="204.0" font-size="21" text-anchor="start" >0-1</text>
<path d="M111.5,226.3h27.2" stroke="#1886aa" stroke-width="2.7" stroke-linecap="round"/>
<circle cx="124.8" cy="226.3" r="3.7" fill="#fff" stroke="#1886aa" stroke-width="1.9"/>
<text x="141" y="230.5" font-size="21" text-anchor="start" >10-0.2</text>
<path d="M197.6,226.3h27.2" stroke="#3269bf" stroke-width="2.7" stroke-linecap="round"/>
<circle cx="210.9" cy="226.3" r="3.7" fill="#fff" stroke="#3269bf" stroke-width="1.9"/>
<text x="228.2" y="230.5" font-size="21" text-anchor="start" >10-0.5</text>
<path d="M111.5,252.8h27.2" stroke="#5883c6" stroke-width="2.7" stroke-linecap="round"/>
<circle cx="124.8" cy="252.8" r="3.7" fill="#fff" stroke="#5883c6" stroke-width="1.9"/>
<text x="141.5" y="257.0" font-size="21" text-anchor="start" >10-0.7</text>
<path d="M197.6,252.8h27.2" stroke="#90bfe0" stroke-width="2.7" stroke-linecap="round"/>
<circle cx="210.9" cy="252.8" r="3.7" fill="#fff" stroke="#90bfe0" stroke-width="1.9"/>
<text x="228.2" y="257.0" font-size="21" text-anchor="start" >10-1</text>
<path d="M628.10,292.20 C628.26,291.02 628.61,288.37 628.80,287.14 C629.01,285.77 629.54,282.41 629.80,280.99 C630.06,279.58 630.68,276.39 631.00,275.02 C631.31,273.65 632.10,270.54 632.50,269.25 C632.88,268.02 633.82,265.31 634.30,264.20 C634.76,263.16 635.91,260.88 636.50,259.99 C637.06,259.15 638.49,257.40 639.20,256.76 C639.89,256.13 641.66,254.94 642.50,254.52 C643.36,254.09 645.49,253.41 646.50,253.17 C647.62,252.90 650.05,252.70 651.70,252.43 C655.21,251.85 669.71,248.98 675.20,248.00 C680.69,247.02 693.28,245.16 698.75,244.00 C704.27,242.83 716.78,239.20 722.30,238.00 C727.77,236.80 740.34,234.40 745.85,233.70 C751.33,233.00 763.91,232.47 769.40,232.00 C774.90,231.53 787.46,230.32 792.95,229.70 C798.45,229.08 811.02,227.63 816.50,226.70 C822.01,225.77 834.57,223.04 840.05,221.70 C845.57,220.35 858.25,217.45 863.60,215.20 C869.25,212.82 883.76,205.59 887.15,201.50 C889.87,198.22 892.03,189.64 893.00,185.00 C894.37,178.43 895.11,160.07 895.50,150.00 C896.12,133.88 895.38,74.49 896.00,60.00 C896.33,52.35 896.92,40.64 898.00,35.00 C899.05,29.52 903.37,17.60 905.00,12.30" fill="none" stroke="#e02424" stroke-width="2.4" stroke-linejoin="round" stroke-linecap="round"/>
<circle cx="628.10" cy="292.20" r="3.9" fill="#fff" stroke="#e02424" stroke-width="2.0"/>
<circle cx="745.85" cy="233.70" r="3.9" fill="#fff" stroke="#e02424" stroke-width="2.0"/>
<circle cx="769.40" cy="232.00" r="3.9" fill="#fff" stroke="#e02424" stroke-width="2.0"/>
<circle cx="792.95" cy="229.70" r="3.9" fill="#fff" stroke="#e02424" stroke-width="2.0"/>
<circle cx="816.50" cy="226.70" r="3.9" fill="#fff" stroke="#e02424" stroke-width="2.0"/>
<circle cx="840.05" cy="221.70" r="3.9" fill="#fff" stroke="#e02424" stroke-width="2.0"/>
<circle cx="863.60" cy="215.20" r="3.9" fill="#fff" stroke="#e02424" stroke-width="2.0"/>
<circle cx="887.15" cy="201.50" r="3.9" fill="#fff" stroke="#e02424" stroke-width="2.0"/>
<path d="M628.10,290.00 C628.26,288.94 628.61,286.57 628.80,285.47 C629.01,284.24 629.54,281.23 629.80,279.96 C630.06,278.70 630.68,275.84 631.00,274.61 C631.31,273.39 632.10,270.60 632.50,269.45 C632.88,268.35 633.82,265.92 634.30,264.93 C634.76,263.99 635.91,261.95 636.50,261.16 C637.06,260.40 638.49,258.83 639.20,258.26 C639.90,257.69 641.67,256.63 642.50,256.26 C643.37,255.87 645.50,255.26 646.50,255.05 C647.62,254.81 650.05,254.64 651.70,254.38 C655.21,253.83 669.71,250.98 675.20,250.00 C680.69,249.02 693.28,247.16 698.75,246.00 C704.27,244.83 716.79,241.23 722.30,240.00 C727.78,238.78 740.34,236.26 745.85,235.50 C751.33,234.75 763.91,234.02 769.40,233.50 C774.90,232.97 787.46,231.64 792.95,231.00 C798.45,230.36 811.02,228.93 816.50,228.00 C822.01,227.07 834.57,224.28 840.05,223.00 C845.56,221.71 858.19,218.93 863.60,217.00 C869.19,215.00 883.60,209.66 887.15,206.00 C890.05,203.00 892.85,194.69 894.00,190.00 C895.74,182.88 896.56,161.21 897.00,150.00 C897.66,133.21 896.78,74.49 897.30,60.00 C897.57,52.35 897.65,39.77 899.00,35.00 C900.03,31.35 904.21,25.03 905.80,22.00" fill="none" stroke="#e0504a" stroke-width="2.4" stroke-linejoin="round" stroke-linecap="round"/>
<circle cx="816.50" cy="228.00" r="3.9" fill="#fff" stroke="#e0504a" stroke-width="2.0"/>
<circle cx="840.05" cy="223.00" r="3.9" fill="#fff" stroke="#e0504a" stroke-width="2.0"/>
<circle cx="863.60" cy="217.00" r="3.9" fill="#fff" stroke="#e0504a" stroke-width="2.0"/>
<circle cx="887.15" cy="206.00" r="3.9" fill="#fff" stroke="#e0504a" stroke-width="2.0"/>
<path d="M628.10,289.00 C628.26,287.85 628.61,285.29 628.80,284.09 C629.01,282.76 629.54,279.50 629.80,278.12 C630.06,276.76 630.68,273.66 631.00,272.33 C631.31,271.01 632.10,267.99 632.50,266.73 C632.88,265.54 633.82,262.91 634.30,261.84 C634.76,260.82 635.91,258.62 636.50,257.75 C637.06,256.94 638.49,255.24 639.20,254.61 C639.89,254.00 641.66,252.85 642.50,252.45 C643.36,252.03 645.49,251.37 646.50,251.13 C647.62,250.87 650.05,250.65 651.70,250.42 C655.21,249.92 669.70,247.63 675.20,247.00 C680.68,246.37 693.26,245.58 698.75,245.00 C704.25,244.42 716.82,242.93 722.30,242.00 C727.81,241.07 739.38,237.96 745.85,237.00 C754.92,235.66 783.85,233.77 792.95,233.00 C799.39,232.45 811.01,231.59 816.50,231.00 C822.00,230.40 834.57,228.83 840.05,227.90 C845.56,226.97 858.12,224.27 863.60,223.00 C869.11,221.73 881.72,218.80 887.15,217.00 C892.71,215.16 906.31,210.23 910.70,207.30 C914.33,204.88 921.04,199.27 923.00,195.00 C926.17,188.13 926.01,161.66 926.50,150.00 C927.12,135.47 926.64,93.92 927.00,80.00 C927.26,69.66 927.03,48.65 928.70,41.40 C929.90,36.17 934.83,27.22 936.70,22.90" fill="none" stroke="#f4844c" stroke-width="2.4" stroke-linejoin="round" stroke-linecap="round"/>
<circle cx="840.05" cy="227.90" r="3.9" fill="#fff" stroke="#f4844c" stroke-width="2.0"/>
<circle cx="887.15" cy="217.00" r="3.9" fill="#fff" stroke="#f4844c" stroke-width="2.0"/>
<circle cx="910.70" cy="207.30" r="3.9" fill="#fff" stroke="#f4844c" stroke-width="2.0"/>
<circle cx="928.70" cy="41.40" r="3.9" fill="#fff" stroke="#f4844c" stroke-width="2.0"/>
<path d="M628.10,289.00 C628.26,287.73 628.61,284.88 628.80,283.55 C629.01,282.08 629.54,278.46 629.80,276.93 C630.06,275.41 630.68,271.97 631.00,270.49 C631.31,269.02 632.10,265.67 632.50,264.28 C632.88,262.96 633.81,260.04 634.30,258.84 C634.76,257.72 635.90,255.27 636.50,254.31 C637.06,253.41 638.48,251.52 639.20,250.82 C639.89,250.15 641.66,248.86 642.50,248.42 C643.36,247.96 645.49,247.22 646.50,246.96 C647.62,246.67 650.05,246.45 651.70,246.16 C655.21,245.55 669.69,242.32 675.20,241.60 C680.67,240.89 693.25,240.19 698.75,240.00 C704.24,239.81 716.81,240.07 722.30,240.00 C727.80,239.93 740.36,239.57 745.85,239.40 C751.35,239.22 763.91,238.78 769.40,238.50 C774.90,238.22 787.45,237.32 792.95,237.00 C798.44,236.69 811.01,236.09 816.50,235.80 C822.00,235.51 834.56,234.85 840.05,234.50 C845.55,234.15 858.11,233.30 863.60,232.80 C869.10,232.30 881.68,231.11 887.15,230.20 C892.67,229.28 905.23,226.33 910.70,224.90 C916.22,223.46 928.74,219.41 934.25,217.90 C939.73,216.40 952.86,214.01 957.80,212.00 C962.27,210.18 972.18,205.00 975.00,202.00 C977.43,199.42 980.46,192.44 981.60,188.80 C983.05,184.16 984.45,172.53 985.00,165.00 C986.15,149.42 985.38,86.03 985.50,62.00" fill="none" stroke="#fbd062" stroke-width="2.4" stroke-linejoin="round" stroke-linecap="round"/>
<circle cx="651.65" cy="245.70" r="3.9" fill="#fff" stroke="#fbd062" stroke-width="2.0"/>
<circle cx="675.20" cy="241.60" r="3.9" fill="#fff" stroke="#fbd062" stroke-width="2.0"/>
<circle cx="698.75" cy="240.00" r="3.9" fill="#fff" stroke="#fbd062" stroke-width="2.0"/>
<circle cx="722.30" cy="240.00" r="3.9" fill="#fff" stroke="#fbd062" stroke-width="2.0"/>
<circle cx="745.85" cy="239.40" r="3.9" fill="#fff" stroke="#fbd062" stroke-width="2.0"/>
<circle cx="769.40" cy="238.50" r="3.9" fill="#fff" stroke="#fbd062" stroke-width="2.0"/>
<circle cx="816.50" cy="235.80" r="3.9" fill="#fff" stroke="#fbd062" stroke-width="2.0"/>
<circle cx="863.60" cy="232.60" r="3.9" fill="#fff" stroke="#fbd062" stroke-width="2.0"/>
<circle cx="887.15" cy="230.20" r="3.9" fill="#fff" stroke="#fbd062" stroke-width="2.0"/>
<circle cx="910.70" cy="224.90" r="3.9" fill="#fff" stroke="#fbd062" stroke-width="2.0"/>
<circle cx="934.25" cy="217.90" r="3.9" fill="#fff" stroke="#fbd062" stroke-width="2.0"/>
<circle cx="957.80" cy="212.00" r="3.9" fill="#fff" stroke="#fbd062" stroke-width="2.0"/>
<circle cx="981.60" cy="188.80" r="3.9" fill="#fff" stroke="#fbd062" stroke-width="2.0"/>
<circle cx="985.50" cy="62.00" r="3.9" fill="#fff" stroke="#fbd062" stroke-width="2.0"/>
<path d="M628.10,287.00 C628.54,286.18 629.57,284.22 630.00,283.50 C630.36,282.90 630.99,281.55 631.50,281.20 C632.06,280.82 634.16,281.00 634.70,280.50 C635.38,279.87 635.83,276.63 636.20,275.50 C636.55,274.42 637.17,271.58 637.80,271.00 C638.28,270.56 639.65,270.41 640.50,270.30 C642.21,270.07 649.16,270.30 651.65,270.20 C653.93,270.10 659.07,269.81 661.00,269.50 C662.57,269.25 665.78,268.69 667.00,268.00 C668.24,267.30 670.41,264.08 671.50,263.50 C672.34,263.06 674.28,263.26 675.20,262.80 C676.64,262.07 679.92,257.88 682.00,256.50 C684.93,254.56 695.23,250.57 698.75,249.00 C701.63,247.71 707.36,245.37 710.00,244.00 C712.85,242.53 719.81,238.75 722.30,236.70 C724.68,234.75 729.43,229.97 731.00,227.00 C733.08,223.09 735.56,211.09 736.50,205.00 C737.82,196.41 738.81,171.85 739.20,160.00 C739.70,144.67 739.49,99.39 739.60,84.60 C739.68,73.89 739.73,52.99 740.00,45.00 C740.20,38.91 741.00,27.37 741.30,22.00" fill="none" stroke="#1886aa" stroke-width="2.4" stroke-linejoin="round" stroke-linecap="round"/>
<circle cx="651.65" cy="270.20" r="3.9" fill="#fff" stroke="#1886aa" stroke-width="2.0"/>
<circle cx="675.20" cy="262.80" r="3.9" fill="#fff" stroke="#1886aa" stroke-width="2.0"/>
<circle cx="722.30" cy="236.70" r="3.9" fill="#fff" stroke="#1886aa" stroke-width="2.0"/>
<circle cx="739.60" cy="84.60" r="3.9" fill="#fff" stroke="#1886aa" stroke-width="2.0"/>
<path d="M628.10,288.00 C628.26,287.21 628.61,285.43 628.80,284.60 C629.01,283.68 629.54,281.42 629.80,280.47 C630.06,279.52 630.68,277.38 631.00,276.46 C631.31,275.54 632.11,273.45 632.50,272.58 C632.88,271.76 633.82,269.93 634.30,269.20 C634.76,268.48 635.92,266.96 636.50,266.37 C637.07,265.79 638.51,264.62 639.20,264.19 C639.91,263.76 641.68,262.97 642.50,262.69 C643.37,262.40 645.50,261.95 646.50,261.78 C647.63,261.60 650.05,261.41 651.70,261.29 C655.21,261.03 669.71,260.33 675.20,260.00 C680.69,259.67 693.26,258.97 698.75,258.50 C704.25,258.03 716.81,256.58 722.30,256.00 C727.80,255.42 740.35,254.03 745.85,253.50 C751.34,252.98 764.05,253.04 769.40,251.50 C775.06,249.87 788.44,242.11 792.95,239.40 C796.31,237.38 802.40,233.48 805.00,231.00 C807.95,228.19 814.77,220.13 816.50,216.10 C818.35,211.81 819.32,200.87 819.80,195.00 C820.50,186.49 820.15,162.11 820.20,150.00 C820.27,133.52 820.14,82.11 820.20,66.60 C820.24,56.33 819.99,37.03 820.50,30.00 C820.86,25.05 821.39,14.77 823.00,12.00 C824.12,10.08 828.29,7.94 829.90,6.70" fill="none" stroke="#3269bf" stroke-width="2.4" stroke-linejoin="round" stroke-linecap="round"/>
<circle cx="651.65" cy="261.00" r="3.9" fill="#fff" stroke="#3269bf" stroke-width="2.0"/>
<circle cx="675.20" cy="260.00" r="3.9" fill="#fff" stroke="#3269bf" stroke-width="2.0"/>
<circle cx="745.85" cy="253.50" r="3.9" fill="#fff" stroke="#3269bf" stroke-width="2.0"/>
<circle cx="769.40" cy="251.50" r="3.9" fill="#fff" stroke="#3269bf" stroke-width="2.0"/>
<circle cx="792.95" cy="239.40" r="3.9" fill="#fff" stroke="#3269bf" stroke-width="2.0"/>
<circle cx="816.50" cy="216.10" r="3.9" fill="#fff" stroke="#3269bf" stroke-width="2.0"/>
<circle cx="820.20" cy="66.60" r="3.9" fill="#fff" stroke="#3269bf" stroke-width="2.0"/>
<path d="M628.10,288.00 C628.26,287.11 628.61,285.13 628.80,284.20 C629.01,283.17 629.54,280.65 629.80,279.58 C630.06,278.52 630.68,276.12 631.00,275.09 C631.31,274.06 632.10,271.72 632.50,270.76 C632.88,269.83 633.82,267.79 634.30,266.97 C634.76,266.17 635.92,264.46 636.50,263.80 C637.07,263.16 638.50,261.85 639.20,261.37 C639.90,260.89 641.67,260.00 642.50,259.69 C643.37,259.37 645.50,258.86 646.50,258.68 C647.63,258.48 650.05,258.25 651.70,258.12 C655.21,257.85 669.71,257.31 675.20,257.00 C680.69,256.69 693.25,255.85 698.75,255.50 C704.25,255.15 716.81,254.41 722.30,254.00 C727.80,253.59 740.36,252.47 745.85,252.00 C751.34,251.53 763.92,250.70 769.40,250.00 C774.91,249.30 787.45,246.83 792.95,246.00 C798.44,245.17 811.03,243.92 816.50,242.90 C822.02,241.87 834.73,239.43 840.05,237.20 C845.74,234.82 860.28,226.66 863.60,222.60 C866.08,219.56 868.00,211.61 869.00,208.00 C870.07,204.14 871.53,194.58 872.30,190.50" fill="none" stroke="#5883c6" stroke-width="2.4" stroke-linejoin="round" stroke-linecap="round"/>
<circle cx="651.65" cy="257.80" r="3.9" fill="#fff" stroke="#5883c6" stroke-width="2.0"/>
<circle cx="675.20" cy="257.00" r="3.9" fill="#fff" stroke="#5883c6" stroke-width="2.0"/>
<circle cx="816.50" cy="242.90" r="3.9" fill="#fff" stroke="#5883c6" stroke-width="2.0"/>
<circle cx="840.05" cy="237.20" r="3.9" fill="#fff" stroke="#5883c6" stroke-width="2.0"/>
<circle cx="863.60" cy="222.60" r="3.9" fill="#fff" stroke="#5883c6" stroke-width="2.0"/>
<circle cx="872.30" cy="190.50" r="3.9" fill="#fff" stroke="#5883c6" stroke-width="2.0"/>
<path d="M628.10,286.60 C628.26,285.64 628.61,283.49 628.80,282.48 C629.01,281.37 629.54,278.64 629.80,277.48 C630.06,276.34 630.68,273.74 631.00,272.62 C631.31,271.51 632.10,268.98 632.50,267.93 C632.88,266.93 633.82,264.72 634.30,263.83 C634.76,262.97 635.91,261.12 636.50,260.40 C637.06,259.71 638.50,258.29 639.20,257.77 C639.90,257.25 641.67,256.29 642.50,255.95 C643.37,255.60 645.50,255.04 646.50,254.85 C647.63,254.63 650.05,254.47 651.70,254.25 C655.21,253.77 669.70,251.18 675.20,250.60 C680.68,250.02 693.25,249.49 698.75,249.30 C704.24,249.11 716.81,249.13 722.30,249.00 C727.80,248.87 740.36,248.40 745.85,248.20 C751.35,248.00 763.90,247.51 769.40,247.30 C774.90,247.09 787.45,246.55 792.95,246.40 C798.44,246.25 811.01,246.10 816.50,246.00 C822.00,245.89 834.56,245.84 840.05,245.50 C845.55,245.16 858.11,243.75 863.60,243.10 C869.10,242.45 881.68,240.92 887.15,239.90 C892.67,238.87 905.33,236.32 910.70,234.30 C916.33,232.19 930.42,225.75 934.25,221.90 C937.49,218.64 941.50,209.34 943.00,205.00 C944.65,200.25 946.30,187.83 947.30,182.60" fill="none" stroke="#90bfe0" stroke-width="2.4" stroke-linejoin="round" stroke-linecap="round"/>
<circle cx="628.10" cy="286.60" r="3.9" fill="#fff" stroke="#90bfe0" stroke-width="2.0"/>
<circle cx="651.65" cy="253.90" r="3.9" fill="#fff" stroke="#90bfe0" stroke-width="2.0"/>
<circle cx="675.20" cy="250.60" r="3.9" fill="#fff" stroke="#90bfe0" stroke-width="2.0"/>
<circle cx="698.75" cy="249.30" r="3.9" fill="#fff" stroke="#90bfe0" stroke-width="2.0"/>
<circle cx="722.30" cy="249.00" r="3.9" fill="#fff" stroke="#90bfe0" stroke-width="2.0"/>
<circle cx="745.85" cy="248.20" r="3.9" fill="#fff" stroke="#90bfe0" stroke-width="2.0"/>
<circle cx="769.40" cy="247.30" r="3.9" fill="#fff" stroke="#90bfe0" stroke-width="2.0"/>
<circle cx="792.95" cy="246.40" r="3.9" fill="#fff" stroke="#90bfe0" stroke-width="2.0"/>
<circle cx="816.50" cy="246.00" r="3.9" fill="#fff" stroke="#90bfe0" stroke-width="2.0"/>
<circle cx="840.05" cy="245.50" r="3.9" fill="#fff" stroke="#90bfe0" stroke-width="2.0"/>
<circle cx="863.60" cy="243.10" r="3.9" fill="#fff" stroke="#90bfe0" stroke-width="2.0"/>
<circle cx="887.15" cy="239.90" r="3.9" fill="#fff" stroke="#90bfe0" stroke-width="2.0"/>
<circle cx="910.70" cy="234.30" r="3.9" fill="#fff" stroke="#90bfe0" stroke-width="2.0"/>
<circle cx="934.25" cy="221.90" r="3.9" fill="#fff" stroke="#90bfe0" stroke-width="2.0"/>
<circle cx="947.30" cy="182.60" r="3.9" fill="#fff" stroke="#90bfe0" stroke-width="2.0"/>
<path d="M628.10,124.30 C633.60,123.06 646.23,120.71 651.65,119.00 C657.22,117.24 671.87,112.16 675.20,109.30 C677.31,107.49 679.64,103.20 680.50,100.50 C681.83,96.33 681.49,80.20 682.30,76.00 C682.79,73.47 683.52,68.85 685.00,67.50 C686.86,65.80 695.09,65.04 698.75,64.50 C703.49,63.79 716.80,63.03 722.30,62.60 C727.79,62.17 740.36,61.22 745.85,60.80 C751.34,60.38 763.91,59.47 769.40,59.00 C774.90,58.53 787.46,57.41 792.95,56.80 C798.45,56.19 811.00,54.47 816.50,53.80 C821.99,53.14 834.59,52.11 840.05,51.10 C845.58,50.07 858.21,47.03 863.60,45.00 C869.21,42.88 882.59,35.25 887.15,33.10 C890.32,31.61 896.76,30.11 898.80,28.00 C901.15,25.56 903.55,15.96 905.00,12.30" fill="none" stroke="#e02424" stroke-width="2.4" stroke-linejoin="round" stroke-linecap="round"/>
<circle cx="651.65" cy="119.00" r="3.9" fill="#fff" stroke="#e02424" stroke-width="2.0"/>
<circle cx="675.20" cy="109.30" r="3.9" fill="#fff" stroke="#e02424" stroke-width="2.0"/>
<circle cx="698.75" cy="64.50" r="3.9" fill="#fff" stroke="#e02424" stroke-width="2.0"/>
<circle cx="722.30" cy="62.60" r="3.9" fill="#fff" stroke="#e02424" stroke-width="2.0"/>
<circle cx="745.85" cy="60.80" r="3.9" fill="#fff" stroke="#e02424" stroke-width="2.0"/>
<circle cx="769.40" cy="59.00" r="3.9" fill="#fff" stroke="#e02424" stroke-width="2.0"/>
<circle cx="792.95" cy="56.80" r="3.9" fill="#fff" stroke="#e02424" stroke-width="2.0"/>
<circle cx="816.50" cy="53.80" r="3.9" fill="#fff" stroke="#e02424" stroke-width="2.0"/>
<circle cx="840.05" cy="51.10" r="3.9" fill="#fff" stroke="#e02424" stroke-width="2.0"/>
<circle cx="863.60" cy="45.00" r="3.9" fill="#fff" stroke="#e02424" stroke-width="2.0"/>
<circle cx="887.15" cy="33.10" r="3.9" fill="#fff" stroke="#e02424" stroke-width="2.0"/>
<circle cx="905.00" cy="12.30" r="3.9" fill="#fff" stroke="#e02424" stroke-width="2.0"/>
<circle cx="898.80" cy="30.00" r="3.9" fill="#fff" stroke="#e02424" stroke-width="2.0"/>
<path d="M628.10,124.30 C639.09,124.00 666.10,123.42 675.20,123.00 C681.64,122.71 693.29,122.36 698.75,121.50 C704.29,120.63 717.54,117.30 722.30,115.50 C726.23,114.02 734.78,111.01 737.00,108.00 C739.64,104.42 739.80,89.76 741.00,85.00 C741.99,81.09 743.43,72.69 746.00,70.00 C749.24,66.61 763.85,62.40 769.40,61.00 C774.81,59.64 787.46,58.70 792.95,58.00 C798.44,57.30 811.00,55.64 816.50,55.00 C821.99,54.36 834.58,53.42 840.05,52.50 C845.57,51.57 858.22,48.97 863.60,47.00 C869.22,44.95 882.56,37.76 887.15,35.00 C890.69,32.88 897.59,27.68 900.00,26.00 C901.62,24.88 904.45,22.93 905.80,22.00" fill="none" stroke="#e0504a" stroke-width="2.4" stroke-linejoin="round" stroke-linecap="round"/>
<circle cx="698.75" cy="121.50" r="3.9" fill="#fff" stroke="#e0504a" stroke-width="2.0"/>
<circle cx="722.30" cy="115.50" r="3.9" fill="#fff" stroke="#e0504a" stroke-width="2.0"/>
<circle cx="769.40" cy="61.00" r="3.9" fill="#fff" stroke="#e0504a" stroke-width="2.0"/>
<circle cx="792.95" cy="58.00" r="3.9" fill="#fff" stroke="#e0504a" stroke-width="2.0"/>
<circle cx="816.50" cy="55.00" r="3.9" fill="#fff" stroke="#e0504a" stroke-width="2.0"/>
<circle cx="840.05" cy="52.50" r="3.9" fill="#fff" stroke="#e0504a" stroke-width="2.0"/>
<circle cx="863.60" cy="47.00" r="3.9" fill="#fff" stroke="#e0504a" stroke-width="2.0"/>
<circle cx="887.15" cy="35.00" r="3.9" fill="#fff" stroke="#e0504a" stroke-width="2.0"/>
<circle cx="905.80" cy="22.00" r="3.9" fill="#fff" stroke="#e0504a" stroke-width="2.0"/>
<circle cx="905.00" cy="16.00" r="3.9" fill="#fff" stroke="#e0504a" stroke-width="2.0"/>
<path d="M628.10,124.30 C650.08,123.76 707.69,123.65 722.30,122.00 C729.68,121.16 740.53,119.27 745.85,117.20 C751.54,114.99 766.05,107.37 769.40,103.10 C772.19,99.55 773.58,89.00 775.00,85.00 C776.31,81.31 778.67,72.20 781.00,70.00 C783.06,68.05 789.66,66.86 792.95,66.00 C797.49,64.81 811.00,62.52 816.50,61.50 C821.99,60.49 834.57,58.41 840.05,57.30 C845.56,56.19 858.09,53.13 863.60,52.00 C869.08,50.87 881.74,49.20 887.15,47.60 C892.73,45.95 905.32,41.01 910.70,37.90 C916.70,34.43 929.94,23.03 935.80,18.50" fill="none" stroke="#f4844c" stroke-width="2.4" stroke-linejoin="round" stroke-linecap="round"/>
<circle cx="745.85" cy="117.20" r="3.9" fill="#fff" stroke="#f4844c" stroke-width="2.0"/>
<circle cx="769.40" cy="103.10" r="3.9" fill="#fff" stroke="#f4844c" stroke-width="2.0"/>
<circle cx="840.05" cy="57.30" r="3.9" fill="#fff" stroke="#f4844c" stroke-width="2.0"/>
<circle cx="863.60" cy="52.00" r="3.9" fill="#fff" stroke="#f4844c" stroke-width="2.0"/>
<circle cx="887.15" cy="47.60" r="3.9" fill="#fff" stroke="#f4844c" stroke-width="2.0"/>
<circle cx="910.70" cy="37.90" r="3.9" fill="#fff" stroke="#f4844c" stroke-width="2.0"/>
<circle cx="935.80" cy="18.50" r="3.9" fill="#fff" stroke="#f4844c" stroke-width="2.0"/>
<path d="M628.10,124.30 C655.58,123.76 728.88,122.92 745.85,122.00 C753.45,121.59 763.92,120.56 769.40,119.90 C774.91,119.23 787.71,118.49 792.95,116.30 C798.77,113.86 812.29,103.31 816.50,98.70 C820.14,94.71 825.08,83.84 828.00,80.00 C830.62,76.55 836.34,68.86 840.05,67.00 C844.34,64.85 858.11,65.14 863.60,64.50 C869.10,63.86 881.68,62.44 887.15,61.50 C892.67,60.55 905.22,57.71 910.70,56.40 C916.21,55.08 928.76,51.68 934.25,50.20 C939.75,48.72 952.47,46.03 957.80,43.70 C963.48,41.22 976.70,32.36 981.35,29.10 C985.01,26.54 991.66,20.97 994.80,18.50" fill="none" stroke="#fbd062" stroke-width="2.4" stroke-linejoin="round" stroke-linecap="round"/>
<circle cx="769.40" cy="119.90" r="3.9" fill="#fff" stroke="#fbd062" stroke-width="2.0"/>
<circle cx="792.95" cy="116.30" r="3.9" fill="#fff" stroke="#fbd062" stroke-width="2.0"/>
<circle cx="816.50" cy="98.70" r="3.9" fill="#fff" stroke="#fbd062" stroke-width="2.0"/>
<circle cx="910.70" cy="56.40" r="3.9" fill="#fff" stroke="#fbd062" stroke-width="2.0"/>
<circle cx="934.25" cy="50.20" r="3.9" fill="#fff" stroke="#fbd062" stroke-width="2.0"/>
<circle cx="957.80" cy="43.70" r="3.9" fill="#fff" stroke="#fbd062" stroke-width="2.0"/>
<circle cx="981.35" cy="29.10" r="3.9" fill="#fff" stroke="#fbd062" stroke-width="2.0"/>
<circle cx="994.80" cy="18.50" r="3.9" fill="#fff" stroke="#fbd062" stroke-width="2.0"/>
<path d="M628.10,124.30 C633.60,124.23 647.55,124.22 651.65,124.00 C654.10,123.87 658.37,123.83 660.00,123.20 C661.40,122.66 664.11,120.82 665.00,119.50 C666.23,117.68 667.42,111.00 668.00,108.00 C668.72,104.29 669.77,93.93 670.30,90.00 C670.77,86.53 671.57,78.68 672.30,76.00 C672.84,74.03 673.63,70.00 675.20,68.90 C677.95,66.97 693.26,68.17 698.75,67.90 C704.25,67.63 717.65,66.93 722.30,66.60 C725.72,66.36 733.05,66.97 735.00,65.50 C736.83,64.12 738.39,57.90 739.00,55.00 C739.81,51.13 739.69,39.16 740.00,35.00 C740.25,31.64 740.17,24.63 741.30,22.00 C742.39,19.45 747.43,14.87 749.30,12.70" fill="none" stroke="#1886aa" stroke-width="2.4" stroke-linejoin="round" stroke-linecap="round"/>
<circle cx="628.10" cy="124.30" r="3.9" fill="#fff" stroke="#1886aa" stroke-width="2.0"/>
<circle cx="651.65" cy="124.00" r="3.9" fill="#fff" stroke="#1886aa" stroke-width="2.0"/>
<circle cx="675.20" cy="68.70" r="3.9" fill="#fff" stroke="#1886aa" stroke-width="2.0"/>
<circle cx="698.75" cy="67.90" r="3.9" fill="#fff" stroke="#1886aa" stroke-width="2.0"/>
<circle cx="722.30" cy="66.60" r="3.9" fill="#fff" stroke="#1886aa" stroke-width="2.0"/>
<circle cx="741.30" cy="22.00" r="3.9" fill="#fff" stroke="#1886aa" stroke-width="2.0"/>
<circle cx="749.30" cy="12.70" r="3.9" fill="#fff" stroke="#1886aa" stroke-width="2.0"/>
<path d="M628.10,124.30 C644.58,124.11 688.87,125.19 698.75,123.50 C703.15,122.75 709.78,121.27 712.00,119.00 C714.65,116.30 716.79,104.45 718.00,100.00 C719.19,95.61 721.11,84.98 722.30,81.10 C723.27,77.92 724.75,70.64 727.00,69.00 C729.72,67.02 741.21,68.04 745.85,67.90 C751.04,67.75 763.91,68.00 769.40,67.90 C774.90,67.80 787.46,67.22 792.95,67.00 C798.45,66.78 813.65,68.27 816.50,66.00 C818.48,64.42 819.02,58.12 819.50,55.00 C820.21,50.38 820.02,35.34 820.50,30.00 C820.91,25.45 821.39,14.77 823.00,12.00 C824.12,10.08 828.29,7.94 829.90,6.70" fill="none" stroke="#3269bf" stroke-width="2.4" stroke-linejoin="round" stroke-linecap="round"/>
<circle cx="722.30" cy="81.10" r="3.9" fill="#fff" stroke="#3269bf" stroke-width="2.0"/>
<circle cx="745.85" cy="67.90" r="3.9" fill="#fff" stroke="#3269bf" stroke-width="2.0"/>
<circle cx="769.40" cy="67.90" r="3.9" fill="#fff" stroke="#3269bf" stroke-width="2.0"/>
<circle cx="792.95" cy="67.00" r="3.9" fill="#fff" stroke="#3269bf" stroke-width="2.0"/>
<circle cx="816.50" cy="66.00" r="3.9" fill="#fff" stroke="#3269bf" stroke-width="2.0"/>
<circle cx="829.90" cy="6.70" r="3.9" fill="#fff" stroke="#3269bf" stroke-width="2.0"/>
<path d="M628.10,124.30 C650.08,124.00 709.87,127.02 722.30,123.00 C727.91,121.19 735.22,115.14 738.00,112.00 C740.60,109.07 744.30,101.18 745.85,97.30 C747.68,92.73 748.95,78.43 752.00,75.00 C754.75,71.91 764.97,69.29 769.40,67.90 C774.42,66.32 787.44,63.64 792.95,62.60 C798.43,61.57 810.99,59.36 816.50,59.00 C821.98,58.64 834.56,59.64 840.05,59.50 C845.55,59.36 859.80,59.27 863.60,57.80 C866.00,56.87 869.88,54.03 871.00,52.00 C872.52,49.26 872.39,38.96 872.80,35.00 C873.21,31.07 874.10,22.12 874.50,18.20" fill="none" stroke="#5883c6" stroke-width="2.4" stroke-linejoin="round" stroke-linecap="round"/>
<circle cx="745.85" cy="97.30" r="3.9" fill="#fff" stroke="#5883c6" stroke-width="2.0"/>
<circle cx="769.40" cy="67.90" r="3.9" fill="#fff" stroke="#5883c6" stroke-width="2.0"/>
<circle cx="792.95" cy="62.60" r="3.9" fill="#fff" stroke="#5883c6" stroke-width="2.0"/>
<circle cx="816.50" cy="59.00" r="3.9" fill="#fff" stroke="#5883c6" stroke-width="2.0"/>
<circle cx="840.05" cy="59.50" r="3.9" fill="#fff" stroke="#5883c6" stroke-width="2.0"/>
<circle cx="863.60" cy="57.80" r="3.9" fill="#fff" stroke="#5883c6" stroke-width="2.0"/>
<circle cx="874.50" cy="18.20" r="3.9" fill="#fff" stroke="#5883c6" stroke-width="2.0"/>
<path d="M628.10,124.30 C650.08,124.04 707.65,123.78 722.30,123.20 C729.63,122.91 740.39,122.40 745.85,121.60 C751.38,120.80 765.09,119.33 769.40,116.30 C773.81,113.20 780.19,99.97 783.00,95.00 C785.65,90.31 789.18,77.97 792.95,74.90 C796.88,71.70 810.96,69.51 816.50,68.70 C821.95,67.90 834.56,68.20 840.05,67.90 C845.55,67.60 858.11,66.58 863.60,66.10 C869.10,65.62 881.66,64.42 887.15,63.80 C892.65,63.18 905.23,61.76 910.70,60.80 C916.22,59.83 929.90,57.08 934.25,55.50 C937.33,54.39 943.47,52.30 945.00,50.00 C946.97,47.03 945.89,34.48 946.50,30.00 C947.07,25.80 948.40,15.62 949.90,12.70 C950.97,10.62 954.58,7.72 956.00,6.20" fill="none" stroke="#90bfe0" stroke-width="2.4" stroke-linejoin="round" stroke-linecap="round"/>
<circle cx="628.10" cy="124.30" r="3.9" fill="#fff" stroke="#90bfe0" stroke-width="2.0"/>
<circle cx="651.65" cy="124.30" r="3.9" fill="#fff" stroke="#90bfe0" stroke-width="2.0"/>
<circle cx="675.20" cy="124.30" r="3.9" fill="#fff" stroke="#90bfe0" stroke-width="2.0"/>
<circle cx="698.75" cy="124.30" r="3.9" fill="#fff" stroke="#90bfe0" stroke-width="2.0"/>
<circle cx="722.30" cy="124.30" r="3.9" fill="#fff" stroke="#90bfe0" stroke-width="2.0"/>
<circle cx="745.85" cy="121.60" r="3.9" fill="#fff" stroke="#90bfe0" stroke-width="2.0"/>
<circle cx="769.40" cy="116.30" r="3.9" fill="#fff" stroke="#90bfe0" stroke-width="2.0"/>
<circle cx="792.95" cy="74.90" r="3.9" fill="#fff" stroke="#90bfe0" stroke-width="2.0"/>
<circle cx="816.50" cy="68.70" r="3.9" fill="#fff" stroke="#90bfe0" stroke-width="2.0"/>
<circle cx="840.05" cy="67.90" r="3.9" fill="#fff" stroke="#90bfe0" stroke-width="2.0"/>
<circle cx="863.60" cy="66.10" r="3.9" fill="#fff" stroke="#90bfe0" stroke-width="2.0"/>
<circle cx="887.15" cy="63.80" r="3.9" fill="#fff" stroke="#90bfe0" stroke-width="2.0"/>
<circle cx="910.70" cy="60.80" r="3.9" fill="#fff" stroke="#90bfe0" stroke-width="2.0"/>
<circle cx="934.25" cy="55.50" r="3.9" fill="#fff" stroke="#90bfe0" stroke-width="2.0"/>
<circle cx="949.90" cy="12.70" r="3.9" fill="#fff" stroke="#90bfe0" stroke-width="2.0"/>
<circle cx="956.00" cy="6.20" r="3.9" fill="#fff" stroke="#90bfe0" stroke-width="2.0"/>
<path d="M609.9,0 V319.7 H1005.0 V0" fill="none" stroke="#000" stroke-width="1.7"/>
<path d="M608.9,0.9 H1006.0" stroke="#4a4a4a" stroke-width="1.8"/>
<path d="M609.9,23.10h5.5 M609.9,14.98h3.2 M609.9,10.23h3.2 M609.9,6.86h3.2 M609.9,4.24h3.2 M609.9,2.11h3.2 M609.9,50.08h5.5 M609.9,41.96h3.2 M609.9,37.21h3.2 M609.9,33.84h3.2 M609.9,31.22h3.2 M609.9,29.09h3.2 M609.9,27.28h3.2 M609.9,25.71h3.2 M609.9,24.33h3.2 M609.9,77.06h5.5 M609.9,68.94h3.2 M609.9,64.19h3.2 M609.9,60.82h3.2 M609.9,58.20h3.2 M609.9,56.07h3.2 M609.9,54.26h3.2 M609.9,52.69h3.2 M609.9,51.31h3.2 M609.9,104.04h5.5 M609.9,95.92h3.2 M609.9,91.17h3.2 M609.9,87.80h3.2 M609.9,85.18h3.2 M609.9,83.05h3.2 M609.9,81.24h3.2 M609.9,79.67h3.2 M609.9,78.29h3.2 M609.9,131.02h5.5 M609.9,122.90h3.2 M609.9,118.15h3.2 M609.9,114.78h3.2 M609.9,112.16h3.2 M609.9,110.03h3.2 M609.9,108.22h3.2 M609.9,106.65h3.2 M609.9,105.27h3.2 M609.9,158.00h5.5 M609.9,149.88h3.2 M609.9,145.13h3.2 M609.9,141.76h3.2 M609.9,139.14h3.2 M609.9,137.01h3.2 M609.9,135.20h3.2 M609.9,133.63h3.2 M609.9,132.25h3.2 M609.9,184.98h5.5 M609.9,176.86h3.2 M609.9,172.11h3.2 M609.9,168.74h3.2 M609.9,166.12h3.2 M609.9,163.99h3.2 M609.9,162.18h3.2 M609.9,160.61h3.2 M609.9,159.23h3.2 M609.9,211.96h5.5 M609.9,203.84h3.2 M609.9,199.09h3.2 M609.9,195.72h3.2 M609.9,193.10h3.2 M609.9,190.97h3.2 M609.9,189.16h3.2 M609.9,187.59h3.2 M609.9,186.21h3.2 M609.9,238.94h5.5 M609.9,230.82h3.2 M609.9,226.07h3.2 M609.9,222.70h3.2 M609.9,220.08h3.2 M609.9,217.95h3.2 M609.9,216.14h3.2 M609.9,214.57h3.2 M609.9,213.19h3.2 M609.9,265.92h5.5 M609.9,257.80h3.2 M609.9,253.05h3.2 M609.9,249.68h3.2 M609.9,247.06h3.2 M609.9,244.93h3.2 M609.9,243.12h3.2 M609.9,241.55h3.2 M609.9,240.17h3.2 M609.9,292.90h5.5 M609.9,284.78h3.2 M609.9,280.03h3.2 M609.9,276.66h3.2 M609.9,274.04h3.2 M609.9,271.91h3.2 M609.9,270.10h3.2 M609.9,268.53h3.2 M609.9,267.15h3.2 M609.9,311.76h3.2 M609.9,307.01h3.2 M609.9,303.64h3.2 M609.9,301.02h3.2 M609.9,298.89h3.2 M609.9,297.08h3.2 M609.9,295.51h3.2 M609.9,294.13h3.2" stroke="#000" stroke-width="1.3" fill="none"/>
<path d="M628.10,319.7v-4.5 M675.20,319.7v-3.5 M722.30,319.7v-4.5 M769.40,319.7v-3.5 M816.50,319.7v-4.5 M863.60,319.7v-3.5 M910.70,319.7v-4.5 M957.80,319.7v-3.5" stroke="#000" stroke-width="1.4" fill="none"/>
<text x="602.4" y="60.68" font-size="27" text-anchor="end" >10<tspan font-size="18" dy="-10.5">-4</tspan></text>
<text x="602.4" y="114.63999999999999" font-size="27" text-anchor="end" >10<tspan font-size="18" dy="-10.5">-6</tspan></text>
<text x="602.4" y="168.6" font-size="27" text-anchor="end" >10<tspan font-size="18" dy="-10.5">-8</tspan></text>
<text x="602.4" y="222.56" font-size="27" text-anchor="end" >10<tspan font-size="18" dy="-10.5">-10</tspan></text>
<text x="602.4" y="276.52000000000004" font-size="27" text-anchor="end" >10<tspan font-size="18" dy="-10.5">-12</tspan></text>
<text x="602.4" y="330.4800000000001" font-size="27" text-anchor="end" >10<tspan font-size="18" dy="-10.5">-14</tspan></text>
<text x="628.1" y="348.2" font-size="27" text-anchor="middle" >0</text>
<text x="722.3000000000001" y="348.2" font-size="27" text-anchor="middle" >10</text>
<text x="816.5" y="348.2" font-size="27" text-anchor="middle" >20</text>
<text x="910.7" y="348.2" font-size="27" text-anchor="middle" >30</text>
<text x="1004.9000000000001" y="348.2" font-size="27" text-anchor="middle" >40</text>
<text x="807.2" y="373.4" font-size="28" text-anchor="middle" >Reverse Voltage(V)</text>
<text transform="translate(553.2,160.9) rotate(-90)" font-size="27.5" text-anchor="middle">Current(A)</text>
<text x="617.5" y="30.5" font-size="43" text-anchor="start" >(b)</text>
<text x="654.7" y="49.8" font-size="27" text-anchor="start" >Optical</text>
<text x="665" y="155.6" font-size="27" text-anchor="start" >T=300 K</text>
<text x="658.1" y="188.6" font-size="27" text-anchor="start" >λ=1550 nm</text>
<text x="658.9" y="221.2" font-size="27" text-anchor="start" >P= -20 dBm</text>
<text x="927.3" y="256.5" font-size="27" text-anchor="start" >Dark</text>
<path d="M674.2,276.3h26.6" stroke="#e02424" stroke-width="2.7" stroke-linecap="round"/>
<circle cx="687.5" cy="276.3" r="3.7" fill="#fff" stroke="#e02424" stroke-width="1.9"/>
<text x="704.4" y="280.1" font-size="21" text-anchor="start" >0-0.2</text>
<path d="M759.1,276.3h26.6" stroke="#e0504a" stroke-width="2.7" stroke-linecap="round"/>
<circle cx="772.4" cy="276.3" r="3.7" fill="#fff" stroke="#e0504a" stroke-width="1.9"/>
<text x="793.6999999999999" y="280.1" font-size="21" text-anchor="start" >0-0.5</text>
<path d="M842.6,276.3h26.6" stroke="#f4844c" stroke-width="2.7" stroke-linecap="round"/>
<circle cx="855.9" cy="276.3" r="3.7" fill="#fff" stroke="#f4844c" stroke-width="1.9"/>
<text x="873.4" y="280.1" font-size="21" text-anchor="start" >0-0.7</text>
<path d="M927.4000000000001,276.3h26.6" stroke="#fbd062" stroke-width="2.7" stroke-linecap="round"/>
<circle cx="940.7" cy="276.3" r="3.7" fill="#fff" stroke="#fbd062" stroke-width="1.9"/>
<text x="957.5" y="280.1" font-size="21" text-anchor="start" >0-1</text>
<path d="M674.2,303.5h26.6" stroke="#1886aa" stroke-width="2.7" stroke-linecap="round"/>
<circle cx="687.5" cy="303.5" r="3.7" fill="#fff" stroke="#1886aa" stroke-width="1.9"/>
<text x="704.4000000000001" y="307.3" font-size="21" text-anchor="start" >10-0.2</text>
<path d="M759.1,303.5h26.6" stroke="#3269bf" stroke-width="2.7" stroke-linecap="round"/>
<circle cx="772.4" cy="303.5" r="3.7" fill="#fff" stroke="#3269bf" stroke-width="1.9"/>
<text x="790.2" y="307.3" font-size="21" text-anchor="start" >10-0.5</text>
<path d="M842.6,303.5h26.6" stroke="#5883c6" stroke-width="2.7" stroke-linecap="round"/>
<circle cx="855.9" cy="303.5" r="3.7" fill="#fff" stroke="#5883c6" stroke-width="1.9"/>
<text x="873.4000000000001" y="307.3" font-size="21" text-anchor="start" >10-0.7</text>
<path d="M927.4000000000001,303.5h26.6" stroke="#90bfe0" stroke-width="2.7" stroke-linecap="round"/>
<circle cx="940.7" cy="303.5" r="3.7" fill="#fff" stroke="#90bfe0" stroke-width="1.9"/>
<text x="957.9000000000001" y="307.3" font-size="21" text-anchor="start" >10-1</text>
<rect x="356.1" y="399.6" width="415.0" height="333.0" fill="none" stroke="#000" stroke-width="1.6"/>
<path d="M356.1,716.74h4 M356.1,685.38h6 M356.1,654.02h4 M356.1,622.66h6 M356.1,591.30h4 M356.1,559.94h6 M356.1,528.58h4 M356.1,497.22h6 M356.1,465.86h4 M356.1,434.50h6 M356.1,403.14h4 M397.90,732.6v-5.5 M439.30,732.6v-4 M480.70,732.6v-5.5 M522.10,732.6v-4 M563.50,732.6v-5.5 M604.90,732.6v-4 M646.30,732.6v-5.5 M687.70,732.6v-4 M729.10,732.6v-5.5" stroke="#000" stroke-width="1.5" fill="none"/>
<text x="348.5" y="695.08" font-size="28.5" text-anchor="end" >16</text>
<text x="348.5" y="632.36" font-size="28.5" text-anchor="end" >24</text>
<text x="348.5" y="569.6400000000001" font-size="28.5" text-anchor="end" >32</text>
<text x="348.5" y="506.92" font-size="28.5" text-anchor="end" >40</text>
<text x="348.5" y="444.2" font-size="28.5" text-anchor="end" >48</text>
<text x="397.9" y="762.6" font-size="28.5" text-anchor="middle" >0.2</text>
<text x="480.70000000000005" y="762.6" font-size="28.5" text-anchor="middle" >0.4</text>
<text x="563.5" y="762.6" font-size="28.5" text-anchor="middle" >0.6</text>
<text x="646.3" y="762.6" font-size="28.5" text-anchor="middle" >0.8</text>
<text x="729.1" y="762.6" font-size="28.5" text-anchor="middle" >1.0</text>
<text x="562.8" y="786.7" font-size="28.35" text-anchor="middle" >Multiplication Layer Thickness(um)</text>
<text transform="translate(312.5,562.2) rotate(-90)" font-size="29" letter-spacing="0.37" text-anchor="middle">Avalanche Voltage(V)</text>
<text x="370" y="440.5" font-size="43" text-anchor="start" >(c)</text>
<text x="425.5" y="432.8" font-size="28.4" text-anchor="start" >P=-20 dBm λ=1550 nm</text>
<text x="425.5" y="475.6" font-size="28.4" text-anchor="start" >T=300 K</text>
<path d="M397.90,568.56 L522.10,511.33 L604.90,476.52 L729.10,426.66" fill="none" stroke="#e0443a" stroke-width="2.5"/>
<path d="M397.90,569.03 L522.10,524.97 L604.90,492.05 L729.10,439.20" fill="none" stroke="#1b8bae" stroke-width="2.5"/>
<path d="M397.90,588.63 L522.10,588.63 L604.90,563.08 L729.10,514.47" fill="none" stroke="#f99f77" stroke-width="2.5"/>
<path d="M397.90,719.56 L522.10,652.06 L604.90,608.23 L729.10,545.83" fill="none" stroke="#6690cd" stroke-width="2.5"/>
<circle cx="397.90" cy="568.56" r="12.2" fill="#e0443a"/>
<path d="M400.20,564.71 A4.85,3.85 0 0 1 400.20,572.41Z" fill="#fff"/>
<circle cx="522.10" cy="511.33" r="12.2" fill="#e0443a"/>
<path d="M524.40,507.48 A4.85,3.85 0 0 1 524.40,515.18Z" fill="#fff"/>
<circle cx="604.90" cy="476.52" r="12.2" fill="#e0443a"/>
<path d="M607.20,472.67 A4.85,3.85 0 0 1 607.20,480.37Z" fill="#fff"/>
<circle cx="729.10" cy="426.66" r="12.2" fill="#e0443a"/>
<path d="M731.40,422.81 A4.85,3.85 0 0 1 731.40,430.51Z" fill="#fff"/>
<circle cx="397.90" cy="569.03" r="9.8" fill="#fff" stroke="#1b8bae" stroke-width="5.4"/>
<circle cx="522.10" cy="524.97" r="9.8" fill="#fff" stroke="#1b8bae" stroke-width="5.4"/>
<circle cx="604.90" cy="492.05" r="9.8" fill="#fff" stroke="#1b8bae" stroke-width="5.4"/>
<circle cx="729.10" cy="439.20" r="9.8" fill="#fff" stroke="#1b8bae" stroke-width="5.4"/>
<path d="M385.15,581.27 L410.65,581.27 L397.90,603.36Z" fill="#f99f77" stroke="#f99f77" stroke-width="4.6" stroke-linejoin="round"/>
<path d="M400.40,584.77 L405.20,584.77 L400.40,592.57Z" fill="#fff"/>
<path d="M509.35,581.27 L534.85,581.27 L522.10,603.36Z" fill="#f99f77" stroke="#f99f77" stroke-width="4.6" stroke-linejoin="round"/>
<path d="M524.60,584.77 L529.40,584.77 L524.60,592.57Z" fill="#fff"/>
<path d="M592.15,555.71 L617.65,555.71 L604.90,577.80Z" fill="#f99f77" stroke="#f99f77" stroke-width="4.6" stroke-linejoin="round"/>
<path d="M607.40,559.21 L612.20,559.21 L607.40,567.01Z" fill="#fff"/>
<path d="M716.35,507.11 L741.85,507.11 L729.10,529.19Z" fill="#f99f77" stroke="#f99f77" stroke-width="4.6" stroke-linejoin="round"/>
<path d="M731.60,510.61 L736.40,510.61 L731.60,518.41Z" fill="#fff"/>
<path d="M385.15,712.20 L410.65,712.20 L397.90,734.28Z" fill="#fff" stroke="#6690cd" stroke-width="4.6" stroke-linejoin="round"/>
<path d="M509.35,644.70 L534.85,644.70 L522.10,666.78Z" fill="#fff" stroke="#6690cd" stroke-width="4.6" stroke-linejoin="round"/>
<path d="M592.15,600.87 L617.65,600.87 L604.90,622.96Z" fill="#fff" stroke="#6690cd" stroke-width="4.6" stroke-linejoin="round"/>
<path d="M716.35,538.47 L741.85,538.47 L729.10,560.55Z" fill="#fff" stroke="#6690cd" stroke-width="4.6" stroke-linejoin="round"/>
<path d="M521.2,678.3h30.9 M638.2,678.3h29.5" stroke="#e0443a" stroke-width="2.6"/>
<path d="M638.2,678.3h29.5" stroke="#1b8bae" stroke-width="2.6"/>
<circle cx="536.60" cy="678.30" r="6.588" fill="#e0443a"/>
<path d="M537.84,676.22 A2.62,2.08 0 0 1 537.84,680.38Z" fill="#fff"/>
<circle cx="653" cy="678.3" r="5.3" fill="#fff" stroke="#1b8bae" stroke-width="2.6"/>
<path d="M521.2,712.7h30.9" stroke="#f99f77" stroke-width="2.6"/>
<path d="M638.2,712.7h29.5" stroke="#6690cd" stroke-width="2.6"/>
<path d="M529.85,709.10 L543.35,709.10 L536.60,720.79Z" fill="#f99f77" stroke="#f99f77" stroke-width="3.0" stroke-linejoin="round"/>
<path d="M537.92,710.67 L540.46,710.67 L537.92,714.80Z" fill="#fff"/>
<path d="M646.25,709.10 L659.75,709.10 L653.00,720.79Z" fill="#fff" stroke="#6690cd" stroke-width="2.8" stroke-linejoin="round"/>
<text x="554.8" y="683.2" font-size="28.3" text-anchor="start" >0-1E16</text>
<text x="669.5" y="683.2" font-size="28.4" text-anchor="start" >10-1E16</text>
<text x="554.8" y="717.6" font-size="28.3" text-anchor="start" >0-2E17</text>
<text x="669.5" y="717.6" font-size="28.4" text-anchor="start" >10-2E17</text>
</svg></body></html>
